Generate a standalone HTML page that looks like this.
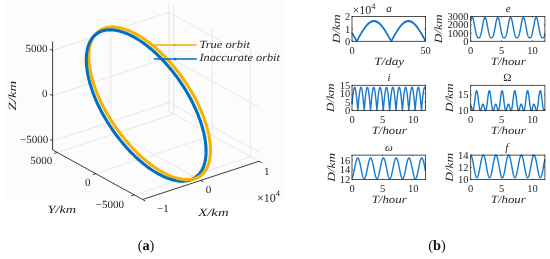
<!DOCTYPE html>
<html><head><meta charset="utf-8"><style>
html,body{margin:0;padding:0;background:#fff;}
body{width:550px;height:259px;overflow:hidden;position:relative;}
svg{position:absolute;left:0;top:0;}
text{text-rendering:geometricPrecision;font-family:'Liberation Serif','DejaVu Serif',serif;fill:#262626;}
.lbl{font-weight:bold;fill:#111;}
</style></head><body>
<svg width="550" height="259" viewBox="0 0 550 259">
<rect x="6" y="0" width="279" height="200" fill="#fcfcfc"/>
<line x1="200.80" y1="180.40" x2="110.80" y2="130.80" stroke="#dcdcdc" stroke-width="0.7"/>
<line x1="110.80" y1="130.80" x2="110.80" y2="22.40" stroke="#dcdcdc" stroke-width="0.7"/>
<line x1="259.00" y1="161.30" x2="169.00" y2="111.70" stroke="#dcdcdc" stroke-width="0.7"/>
<line x1="169.00" y1="111.70" x2="169.00" y2="3.30" stroke="#dcdcdc" stroke-width="0.7"/>
<line x1="134.21" y1="194.87" x2="250.61" y2="156.67" stroke="#dcdcdc" stroke-width="0.7"/>
<line x1="250.61" y1="156.67" x2="250.61" y2="48.27" stroke="#dcdcdc" stroke-width="0.7"/>
<line x1="95.74" y1="173.68" x2="212.14" y2="135.48" stroke="#dcdcdc" stroke-width="0.7"/>
<line x1="212.14" y1="135.48" x2="212.14" y2="27.08" stroke="#dcdcdc" stroke-width="0.7"/>
<line x1="57.28" y1="152.48" x2="173.68" y2="114.28" stroke="#dcdcdc" stroke-width="0.7"/>
<line x1="173.68" y1="114.28" x2="173.68" y2="5.88" stroke="#dcdcdc" stroke-width="0.7"/>
<line x1="52.60" y1="140.87" x2="169.00" y2="102.67" stroke="#dcdcdc" stroke-width="0.7"/>
<line x1="169.00" y1="102.67" x2="259.00" y2="152.27" stroke="#dcdcdc" stroke-width="0.7"/>
<line x1="52.60" y1="95.70" x2="169.00" y2="57.50" stroke="#dcdcdc" stroke-width="0.7"/>
<line x1="169.00" y1="57.50" x2="259.00" y2="107.10" stroke="#dcdcdc" stroke-width="0.7"/>
<line x1="52.60" y1="50.53" x2="169.00" y2="12.33" stroke="#dcdcdc" stroke-width="0.7"/>
<line x1="169.00" y1="12.33" x2="259.00" y2="61.93" stroke="#dcdcdc" stroke-width="0.7"/>
<line x1="52.60" y1="149.90" x2="52.60" y2="41.50" stroke="#262626" stroke-width="0.9"/>
<path d="M52.60,149.90 L142.60,199.50 L259.00,161.30" fill="none" stroke="#262626" stroke-width="0.9" stroke-linejoin="miter"/>
<line x1="52.60" y1="140.87" x2="49.97" y2="139.42" stroke="#262626" stroke-width="0.9"/>
<line x1="52.60" y1="95.70" x2="49.97" y2="94.25" stroke="#262626" stroke-width="0.9"/>
<line x1="52.60" y1="50.53" x2="49.97" y2="49.09" stroke="#262626" stroke-width="0.9"/>
<line x1="134.21" y1="194.87" x2="131.36" y2="195.81" stroke="#262626" stroke-width="0.9"/>
<line x1="95.74" y1="173.68" x2="92.89" y2="174.61" stroke="#262626" stroke-width="0.9"/>
<line x1="57.28" y1="152.48" x2="54.43" y2="153.41" stroke="#262626" stroke-width="0.9"/>
<line x1="142.60" y1="199.50" x2="145.23" y2="200.95" stroke="#262626" stroke-width="0.9"/>
<line x1="200.80" y1="180.40" x2="203.43" y2="181.85" stroke="#262626" stroke-width="0.9"/>
<line x1="259.00" y1="161.30" x2="261.63" y2="162.75" stroke="#262626" stroke-width="0.9"/>
<path d="M200.02,175.98 L199.11,176.58 L198.17,177.12 L197.19,177.62 L196.18,178.06 L195.14,178.45 L194.07,178.79 L192.97,179.08 L191.83,179.32 L190.67,179.50 L189.48,179.63 L188.27,179.71 L187.02,179.74 L185.75,179.72 L184.46,179.64 L183.14,179.51 L181.80,179.33 L180.44,179.10 L179.05,178.81 L177.65,178.48 L176.23,178.09 L174.79,177.65 L173.33,177.16 L171.85,176.62 L170.36,176.03 L168.86,175.39 L167.34,174.70 L165.81,173.96 L164.27,173.17 L162.72,172.33 L161.16,171.45 L159.60,170.52 L158.02,169.55 L156.44,168.53 L154.86,167.46 L153.27,166.35 L151.68,165.20 L150.09,164.01 L148.50,162.77 L146.91,161.49 L145.32,160.18 L143.73,158.82 L142.15,157.43 L140.57,156.00 L139.00,154.53 L137.44,153.03 L135.88,151.50 L134.34,149.93 L132.80,148.33 L131.28,146.70 L129.77,145.04 L128.27,143.35 L126.79,141.63 L125.32,139.89 L123.87,138.12 L122.44,136.33 L121.02,134.51 L119.63,132.68 L118.25,130.82 L116.90,128.95 L115.57,127.05 L114.27,125.15 L112.98,123.22 L111.73,121.29 L110.50,119.34 L109.29,117.38 L108.11,115.41 L106.97,113.43 L105.85,111.45 L104.76,109.46 L103.70,107.46 L102.67,105.47 L101.68,103.47 L100.72,101.47 L99.79,99.47 L98.90,97.48 L98.04,95.49 L97.22,93.50 L96.43,91.52 L95.68,89.55 L94.96,87.59 L94.29,85.64 L93.65,83.71 L93.05,81.78 L92.49,79.87 L91.96,77.98 L91.48,76.10 L91.04,74.25 L90.64,72.41 L90.27,70.59 L89.95,68.80 L89.67,67.03 L89.43,65.29 L89.24,63.57 L89.08,61.88 L88.96,60.22 L88.89,58.58 L88.86,56.98 L88.87,55.41 L88.92,53.87 L89.01,52.37 L89.15,50.90 L89.32,49.47 L89.54,48.07 L89.80,46.71 L90.10,45.39 L90.44,44.11 L90.82,42.88 L91.24,41.68 L91.71,40.52 L92.21,39.41 L92.75,38.34 L93.33,37.32 L93.95,36.34 L94.60,35.41 L95.30,34.52 L96.03,33.69 L96.80,32.90 L97.60,32.15 L98.44,31.46 L99.32,30.82 L100.23,30.22 L101.17,29.68 L102.15,29.18 L103.16,28.74 L104.20,28.35 L105.27,28.01 L106.37,27.72 L107.51,27.48 L108.67,27.30 L109.86,27.17 L111.07,27.09 L112.32,27.06 L113.59,27.08 L114.88,27.16 L116.20,27.29 L117.54,27.47 L118.90,27.70 L120.29,27.99 L121.69,28.32 L123.11,28.71 L124.55,29.15 L126.01,29.64 L127.49,30.18 L128.98,30.77 L130.48,31.41 L132.00,32.10 L133.53,32.84 L135.07,33.63 L136.62,34.47 L138.18,35.35 L139.74,36.28 L141.32,37.25 L142.90,38.27 L144.48,39.34 L146.07,40.45 L147.66,41.60 L149.25,42.79 L150.84,44.03 L152.43,45.31 L154.02,46.62 L155.61,47.98 L157.19,49.37 L158.77,50.80 L160.34,52.27 L161.90,53.77 L163.46,55.30 L165.00,56.87 L166.54,58.47 L168.06,60.10 L169.57,61.76 L171.07,63.45 L172.55,65.17 L174.02,66.91 L175.47,68.68 L176.90,70.47 L178.32,72.29 L179.71,74.12 L181.09,75.98 L182.44,77.85 L183.77,79.75 L185.07,81.65 L186.36,83.58 L187.61,85.51 L188.84,87.46 L190.05,89.42 L191.23,91.39 L192.37,93.37 L193.49,95.35 L194.58,97.34 L195.64,99.34 L196.67,101.33 L197.66,103.33 L198.62,105.33 L199.55,107.33 L200.44,109.32 L201.30,111.31 L202.12,113.30 L202.91,115.28 L203.66,117.25 L204.38,119.21 L205.05,121.16 L205.69,123.09 L206.29,125.02 L206.85,126.93 L207.38,128.82 L207.86,130.70 L208.30,132.55 L208.70,134.39 L209.07,136.21 L209.39,138.00 L209.67,139.77 L209.91,141.51 L210.10,143.23 L210.26,144.92 L210.38,146.58 L210.45,148.22 L210.48,149.82 L210.47,151.39 L210.42,152.93 L210.33,154.43 L210.19,155.90 L210.02,157.33 L209.80,158.73 L209.54,160.09 L209.24,161.41 L208.90,162.69 L208.52,163.92 L208.10,165.12 L207.63,166.28 L207.13,167.39 L206.59,168.46 L206.01,169.48 L205.39,170.46 L204.74,171.39 L204.04,172.28 L203.31,173.11 L202.54,173.90 L201.74,174.65 L200.90,175.34 Z" fill="none" stroke="#F9B100" stroke-width="3.1"/>
<path d="M195.29,177.49 L194.37,178.07 L193.42,178.61 L192.45,179.10 L191.43,179.54 L190.39,179.92 L189.32,180.26 L188.22,180.54 L187.09,180.77 L185.93,180.96 L184.74,181.08 L183.53,181.16 L182.29,181.19 L181.03,181.16 L179.74,181.08 L178.43,180.95 L177.10,180.77 L175.75,180.54 L174.37,180.25 L172.98,179.92 L171.57,179.53 L170.14,179.09 L168.70,178.61 L167.24,178.07 L165.76,177.48 L164.27,176.84 L162.77,176.16 L161.26,175.42 L159.74,174.64 L158.21,173.81 L156.67,172.93 L155.12,172.01 L153.57,171.04 L152.01,170.03 L150.45,168.97 L148.88,167.87 L147.31,166.73 L145.75,165.54 L144.18,164.32 L142.61,163.05 L141.05,161.74 L139.49,160.40 L137.93,159.01 L136.38,157.59 L134.84,156.14 L133.31,154.65 L131.78,153.13 L130.26,151.57 L128.76,149.98 L127.26,148.36 L125.78,146.72 L124.32,145.04 L122.86,143.34 L121.43,141.61 L120.01,139.85 L118.61,138.08 L117.23,136.28 L115.86,134.46 L114.52,132.62 L113.20,130.76 L111.91,128.88 L110.63,126.99 L109.38,125.08 L108.16,123.16 L106.96,121.23 L105.79,119.28 L104.65,117.33 L103.53,115.37 L102.44,113.40 L101.39,111.43 L100.36,109.45 L99.37,107.47 L98.41,105.49 L97.48,103.51 L96.58,101.53 L95.72,99.55 L94.90,97.58 L94.10,95.61 L93.35,93.65 L92.63,91.70 L91.94,89.76 L91.30,87.82 L90.69,85.90 L90.12,84.00 L89.59,82.10 L89.09,80.23 L88.64,78.37 L88.23,76.53 L87.85,74.71 L87.52,72.91 L87.22,71.13 L86.97,69.38 L86.75,67.65 L86.58,65.95 L86.45,64.27 L86.36,62.62 L86.31,61.00 L86.30,59.42 L86.33,57.86 L86.40,56.34 L86.52,54.85 L86.67,53.39 L86.87,51.97 L87.10,50.59 L87.38,49.25 L87.70,47.94 L88.05,46.67 L88.45,45.45 L88.89,44.26 L89.36,43.12 L89.88,42.02 L90.43,40.96 L91.02,39.95 L91.65,38.98 L92.32,38.06 L93.02,37.18 L93.76,36.35 L94.54,35.57 L95.35,34.84 L96.19,34.15 L97.07,33.51 L97.99,32.93 L98.94,32.39 L99.91,31.90 L100.93,31.46 L101.97,31.08 L103.04,30.74 L104.14,30.46 L105.27,30.23 L106.43,30.04 L107.62,29.92 L108.83,29.84 L110.07,29.81 L111.33,29.84 L112.62,29.92 L113.93,30.05 L115.26,30.23 L116.61,30.46 L117.99,30.75 L119.38,31.08 L120.79,31.47 L122.22,31.91 L123.66,32.39 L125.12,32.93 L126.60,33.52 L128.09,34.16 L129.59,34.84 L131.10,35.58 L132.62,36.36 L134.15,37.19 L135.69,38.07 L137.24,38.99 L138.79,39.96 L140.35,40.97 L141.91,42.03 L143.48,43.13 L145.05,44.27 L146.61,45.46 L148.18,46.68 L149.75,47.95 L151.31,49.26 L152.87,50.60 L154.43,51.99 L155.98,53.41 L157.52,54.86 L159.05,56.35 L160.58,57.87 L162.10,59.43 L163.60,61.02 L165.10,62.64 L166.58,64.28 L168.04,65.96 L169.50,67.66 L170.93,69.39 L172.35,71.15 L173.75,72.92 L175.13,74.72 L176.50,76.54 L177.84,78.38 L179.16,80.24 L180.45,82.12 L181.73,84.01 L182.98,85.92 L184.20,87.84 L185.40,89.77 L186.57,91.72 L187.71,93.67 L188.83,95.63 L189.92,97.60 L190.97,99.57 L192.00,101.55 L192.99,103.53 L193.95,105.51 L194.88,107.49 L195.78,109.47 L196.64,111.45 L197.46,113.42 L198.26,115.39 L199.01,117.35 L199.73,119.30 L200.42,121.24 L201.06,123.18 L201.67,125.10 L202.24,127.00 L202.77,128.90 L203.27,130.77 L203.72,132.63 L204.13,134.47 L204.51,136.29 L204.84,138.09 L205.14,139.87 L205.39,141.62 L205.61,143.35 L205.78,145.05 L205.91,146.73 L206.00,148.38 L206.05,150.00 L206.06,151.58 L206.03,153.14 L205.96,154.66 L205.84,156.15 L205.69,157.61 L205.49,159.03 L205.26,160.41 L204.98,161.75 L204.66,163.06 L204.31,164.33 L203.91,165.55 L203.47,166.74 L203.00,167.88 L202.48,168.98 L201.93,170.04 L201.34,171.05 L200.71,172.02 L200.04,172.94 L199.34,173.82 L198.60,174.65 L197.82,175.43 L197.01,176.16 L196.17,176.85 Z" fill="none" stroke="#0071C1" stroke-width="3.1"/>
<path d="M176.23,178.09 L176.70,178.22 L177.18,178.35 L177.65,178.48 L178.12,178.59 L178.59,178.71 L179.05,178.81 L179.52,178.91 L179.98,179.01 L180.44,179.10 L180.90,179.18 L181.35,179.26 L181.80,179.33 L182.25,179.40 L182.70,179.46 L183.14,179.51 L183.58,179.56 L184.02,179.60 L184.46,179.64 L184.89,179.67 L185.32,179.70 L185.75,179.72 L186.18,179.73 L186.60,179.74 L187.02,179.74 L187.44,179.74 L187.85,179.73 L188.27,179.71 L188.67,179.69 L189.08,179.67 L189.48,179.63 L189.88,179.60 L190.28,179.55 L190.67,179.50 L191.06,179.45 L191.45,179.38 L191.83,179.32 L192.21,179.24 L192.59,179.16 L192.97,179.08 L193.34,178.99 L193.71,178.89 L194.07,178.79 L194.43,178.68 L194.79,178.57 L195.14,178.45 L195.49,178.33 L195.84,178.20 L196.18,178.06 L196.52,177.92 L196.86,177.77 L197.19,177.62 L197.52,177.46 L197.85,177.29 L198.17,177.12 L198.49,176.95 L198.80,176.77 L199.11,176.58 L199.42,176.39 L199.72,176.19 L200.02,175.98 L200.32,175.78 L200.61,175.56 L200.90,175.34 L201.18,175.11 L201.46,174.88 L201.74,174.65 L202.01,174.40 L202.28,174.16 L202.54,173.90 L202.80,173.65 L203.06,173.38 L203.31,173.11 L203.56,172.84 L203.80,172.56 L204.04,172.28 L204.28,171.99 L204.51,171.69 L204.74,171.39 L204.96,171.08 L205.18,170.77 L205.39,170.46 L205.60,170.14 L205.81,169.81 L206.01,169.48 L206.21,169.14 L206.40,168.80 L206.59,168.46 L206.78,168.11" fill="none" stroke="#F9B100" stroke-width="3.1"/>
<line x1="153.70" y1="45.00" x2="196.70" y2="45.00" stroke="#F9B100" stroke-width="1.6"/>
<circle cx="175.2" cy="45.0" r="1.3" fill="#F9B100"/>
<line x1="153.90" y1="59.00" x2="196.90" y2="59.00" stroke="#0071C1" stroke-width="1.6"/>
<circle cx="175.2" cy="59.0" r="1.3" fill="#0071C1"/>
<path d="M352.00,33.07 L352.09,33.22 L352.18,33.37 L352.28,33.52 L352.37,33.67 L352.46,33.83 L352.55,33.98 L352.64,34.14 L352.73,34.29 L352.83,34.45 L352.92,34.60 L353.01,34.76 L353.10,34.92 L353.19,35.07 L353.29,35.23 L353.38,35.39 L353.47,35.55 L353.56,35.71 L353.65,35.87 L353.75,36.03 L353.84,36.19 L353.93,36.35 L354.02,36.51 L354.11,36.67 L354.20,36.83 L354.30,36.99 L354.39,37.15 L354.48,37.32 L354.57,37.48 L354.66,37.64 L354.76,37.81 L354.85,37.97 L354.94,38.13 L355.03,38.30 L355.12,38.46 L355.22,38.63 L355.31,38.79 L355.40,38.96 L355.49,39.12 L355.58,39.28 L355.67,39.45 L355.77,39.62 L355.86,39.78 L355.95,39.95 L356.04,40.11 L356.13,40.28 L356.23,40.44 L356.32,40.61 L356.41,40.78 L356.50,40.94 L356.59,41.11 L356.69,41.27 L356.78,41.16 L356.87,40.99 L356.96,40.83 L357.05,40.66 L357.14,40.50 L357.24,40.33 L357.33,40.17 L357.42,40.00 L357.51,39.83 L357.60,39.67 L357.70,39.50 L357.79,39.34 L357.88,39.17 L357.97,39.01 L358.06,38.84 L358.15,38.68 L358.25,38.51 L358.34,38.35 L358.43,38.19 L358.52,38.02 L358.61,37.86 L358.71,37.70 L358.80,37.53 L358.89,37.37 L358.98,37.21 L359.07,37.05 L359.17,36.88 L359.26,36.72 L359.35,36.56 L359.44,36.40 L359.53,36.24 L359.62,36.08 L359.72,35.92 L359.81,35.76 L359.90,35.60 L359.99,35.44 L360.08,35.28 L360.18,35.12 L360.27,34.97 L360.36,34.81 L360.45,34.65 L360.54,34.50 L360.64,34.34 L360.73,34.19 L360.82,34.03 L360.91,33.88 L361.00,33.72 L361.09,33.57 L361.19,33.42 L361.28,33.27 L361.37,33.11 L361.46,32.96 L361.55,32.81 L361.65,32.66 L361.74,32.51 L361.83,32.37 L361.92,32.22 L362.01,32.07 L362.11,31.92 L362.20,31.78 L362.29,31.63 L362.38,31.49 L362.47,31.34 L362.56,31.20 L362.66,31.06 L362.75,30.92 L362.84,30.78 L362.93,30.64 L363.02,30.50 L363.12,30.36 L363.21,30.22 L363.30,30.08 L363.39,29.95 L363.48,29.81 L363.57,29.67 L363.67,29.54 L363.76,29.41 L363.85,29.28 L363.94,29.14 L364.03,29.01 L364.13,28.88 L364.22,28.75 L364.31,28.63 L364.40,28.50 L364.49,28.37 L364.59,28.25 L364.68,28.12 L364.77,28.00 L364.86,27.88 L364.95,27.75 L365.04,27.63 L365.14,27.51 L365.23,27.39 L365.32,27.28 L365.41,27.16 L365.50,27.04 L365.60,26.93 L365.69,26.82 L365.78,26.70 L365.87,26.59 L365.96,26.48 L366.06,26.37 L366.15,26.26 L366.24,26.15 L366.33,26.05 L366.42,25.94 L366.51,25.84 L366.61,25.73 L366.70,25.63 L366.79,25.53 L366.88,25.43 L366.97,25.33 L367.07,25.23 L367.16,25.14 L367.25,25.04 L367.34,24.95 L367.43,24.85 L367.53,24.76 L367.62,24.67 L367.71,24.58 L367.80,24.49 L367.89,24.40 L367.98,24.32 L368.08,24.23 L368.17,24.15 L368.26,24.06 L368.35,23.98 L368.44,23.90 L368.54,23.82 L368.63,23.74 L368.72,23.67 L368.81,23.59 L368.90,23.52 L368.99,23.45 L369.09,23.37 L369.18,23.30 L369.27,23.23 L369.36,23.17 L369.45,23.10 L369.55,23.03 L369.64,22.97 L369.73,22.91 L369.82,22.85 L369.91,22.79 L370.01,22.73 L370.10,22.67 L370.19,22.61 L370.28,22.56 L370.37,22.50 L370.46,22.45 L370.56,22.40 L370.65,22.35 L370.74,22.30 L370.83,22.25 L370.92,22.21 L371.02,22.16 L371.11,22.12 L371.20,22.08 L371.29,22.04 L371.38,22.00 L371.48,21.96 L371.57,21.93 L371.66,21.89 L371.75,21.86 L371.84,21.82 L371.93,21.79 L372.03,21.76 L372.12,21.74 L372.21,21.71 L372.30,21.68 L372.39,21.66 L372.49,21.64 L372.58,21.61 L372.67,21.59 L372.76,21.58 L372.85,21.56 L372.95,21.54 L373.04,21.53 L373.13,21.52 L373.22,21.50 L373.31,21.49 L373.40,21.48 L373.50,21.48 L373.59,21.47 L373.68,21.47 L373.77,21.46 L373.86,21.46 L373.96,21.46 L374.05,21.46 L374.14,21.46 L374.23,21.47 L374.32,21.47 L374.42,21.48 L374.51,21.49 L374.60,21.49 L374.69,21.51 L374.78,21.52 L374.87,21.53 L374.97,21.54 L375.06,21.56 L375.15,21.58 L375.24,21.60 L375.33,21.62 L375.43,21.64 L375.52,21.66 L375.61,21.69 L375.70,21.71 L375.79,21.74 L375.88,21.77 L375.98,21.80 L376.07,21.83 L376.16,21.86 L376.25,21.89 L376.34,21.93 L376.44,21.97 L376.53,22.00 L376.62,22.04 L376.71,22.08 L376.80,22.13 L376.90,22.17 L376.99,22.21 L377.08,22.26 L377.17,22.31 L377.26,22.36 L377.35,22.41 L377.45,22.46 L377.54,22.51 L377.63,22.56 L377.72,22.62 L377.81,22.68 L377.91,22.73 L378.00,22.79 L378.09,22.85 L378.18,22.91 L378.27,22.98 L378.37,23.04 L378.46,23.11 L378.55,23.17 L378.64,23.24 L378.73,23.31 L378.82,23.38 L378.92,23.45 L379.01,23.53 L379.10,23.60 L379.19,23.68 L379.28,23.75 L379.38,23.83 L379.47,23.91 L379.56,23.99 L379.65,24.07 L379.74,24.16 L379.84,24.24 L379.93,24.33 L380.02,24.41 L380.11,24.50 L380.20,24.59 L380.29,24.68 L380.39,24.77 L380.48,24.86 L380.57,24.96 L380.66,25.05 L380.75,25.15 L380.85,25.24 L380.94,25.34 L381.03,25.44 L381.12,25.54 L381.21,25.64 L381.30,25.75 L381.40,25.85 L381.49,25.95 L381.58,26.06 L381.67,26.17 L381.76,26.27 L381.86,26.38 L381.95,26.49 L382.04,26.60 L382.13,26.72 L382.22,26.83 L382.32,26.94 L382.41,27.06 L382.50,27.17 L382.59,27.29 L382.68,27.41 L382.77,27.53 L382.87,27.65 L382.96,27.77 L383.05,27.89 L383.14,28.01 L383.23,28.14 L383.33,28.26 L383.42,28.39 L383.51,28.51 L383.60,28.64 L383.69,28.77 L383.79,28.90 L383.88,29.03 L383.97,29.16 L384.06,29.29 L384.15,29.42 L384.24,29.56 L384.34,29.69 L384.43,29.83 L384.52,29.96 L384.61,30.10 L384.70,30.24 L384.80,30.37 L384.89,30.51 L384.98,30.65 L385.07,30.79 L385.16,30.93 L385.26,31.08 L385.35,31.22 L385.44,31.36 L385.53,31.51 L385.62,31.65 L385.71,31.80 L385.81,31.94 L385.90,32.09 L385.99,32.24 L386.08,32.38 L386.17,32.53 L386.27,32.68 L386.36,32.83 L386.45,32.98 L386.54,33.13 L386.63,33.28 L386.72,33.44 L386.82,33.59 L386.91,33.74 L387.00,33.90 L387.09,34.05 L387.18,34.21 L387.28,34.36 L387.37,34.52 L387.46,34.67 L387.55,34.83 L387.64,34.99 L387.74,35.14 L387.83,35.30 L387.92,35.46 L388.01,35.62 L388.10,35.78 L388.19,35.94 L388.29,36.10 L388.38,36.26 L388.47,36.42 L388.56,36.58 L388.65,36.74 L388.75,36.90 L388.84,37.07 L388.93,37.23 L389.02,37.39 L389.11,37.55 L389.21,37.72 L389.30,37.88 L389.39,38.04 L389.48,38.21 L389.57,38.37 L389.66,38.54 L389.76,38.70 L389.85,38.86 L389.94,39.03 L390.03,39.19 L390.12,39.36 L390.22,39.52 L390.31,39.69 L390.40,39.86 L390.49,40.02 L390.58,40.19 L390.68,40.35 L390.77,40.52 L390.86,40.68 L390.95,40.85 L391.04,41.02 L391.13,41.18 L391.23,41.25 L391.32,41.09 L391.41,40.92 L391.50,40.75 L391.59,40.59 L391.69,40.42 L391.78,40.26 L391.87,40.09 L391.96,39.93 L392.05,39.76 L392.14,39.59 L392.24,39.43 L392.33,39.26 L392.42,39.10 L392.51,38.93 L392.60,38.77 L392.70,38.61 L392.79,38.44 L392.88,38.28 L392.97,38.11 L393.06,37.95 L393.16,37.79 L393.25,37.62 L393.34,37.46 L393.43,37.30 L393.52,37.13 L393.61,36.97 L393.71,36.81 L393.80,36.65 L393.89,36.49 L393.98,36.33 L394.07,36.17 L394.17,36.01 L394.26,35.85 L394.35,35.69 L394.44,35.53 L394.53,35.37 L394.63,35.21 L394.72,35.05 L394.81,34.90 L394.90,34.74 L394.99,34.58 L395.08,34.43 L395.18,34.27 L395.27,34.12 L395.36,33.96 L395.45,33.81 L395.54,33.66 L395.64,33.50 L395.73,33.35 L395.82,33.20 L395.91,33.05 L396.00,32.90 L396.10,32.75 L396.19,32.60 L396.28,32.45 L396.37,32.30 L396.46,32.15 L396.55,32.01 L396.65,31.86 L396.74,31.71 L396.83,31.57 L396.92,31.42 L397.01,31.28 L397.11,31.14 L397.20,31.00 L397.29,30.85 L397.38,30.71 L397.47,30.57 L397.56,30.43 L397.66,30.30 L397.75,30.16 L397.84,30.02 L397.93,29.88 L398.02,29.75 L398.12,29.61 L398.21,29.48 L398.30,29.35 L398.39,29.22 L398.48,29.08 L398.58,28.95 L398.67,28.83 L398.76,28.70 L398.85,28.57 L398.94,28.44 L399.03,28.32 L399.13,28.19 L399.22,28.07 L399.31,27.94 L399.40,27.82 L399.49,27.70 L399.59,27.58 L399.68,27.46 L399.77,27.34 L399.86,27.22 L399.95,27.11 L400.05,26.99 L400.14,26.88 L400.23,26.76 L400.32,26.65 L400.41,26.54 L400.50,26.43 L400.60,26.32 L400.69,26.21 L400.78,26.11 L400.87,26.00 L400.96,25.89 L401.06,25.79 L401.15,25.69 L401.24,25.59 L401.33,25.48 L401.42,25.38 L401.52,25.29 L401.61,25.19 L401.70,25.09 L401.79,25.00 L401.88,24.90 L401.97,24.81 L402.07,24.72 L402.16,24.63 L402.25,24.54 L402.34,24.45 L402.43,24.36 L402.53,24.28 L402.62,24.19 L402.71,24.11 L402.80,24.03 L402.89,23.95 L402.98,23.87 L403.08,23.79 L403.17,23.71 L403.26,23.63 L403.35,23.56 L403.44,23.49 L403.54,23.41 L403.63,23.34 L403.72,23.27 L403.81,23.20 L403.90,23.14 L404.00,23.07 L404.09,23.01 L404.18,22.94 L404.27,22.88 L404.36,22.82 L404.45,22.76 L404.55,22.70 L404.64,22.64 L404.73,22.59 L404.82,22.53 L404.91,22.48 L405.01,22.43 L405.10,22.38 L405.19,22.33 L405.28,22.28 L405.37,22.23 L405.47,22.19 L405.56,22.14 L405.65,22.10 L405.74,22.06 L405.83,22.02 L405.92,21.98 L406.02,21.95 L406.11,21.91 L406.20,21.87 L406.29,21.84 L406.38,21.81 L406.48,21.78 L406.57,21.75 L406.66,21.72 L406.75,21.70 L406.84,21.67 L406.94,21.65 L407.03,21.63 L407.12,21.61 L407.21,21.59 L407.30,21.57 L407.39,21.55 L407.49,21.54 L407.58,21.52 L407.67,21.51 L407.76,21.50 L407.85,21.49 L407.95,21.48 L408.04,21.47 L408.13,21.47 L408.22,21.46 L408.31,21.46 L408.41,21.46 L408.50,21.46 L408.59,21.46 L408.68,21.46 L408.77,21.47 L408.86,21.47 L408.96,21.48 L409.05,21.49 L409.14,21.50 L409.23,21.51 L409.32,21.52 L409.42,21.54 L409.51,21.55 L409.60,21.57 L409.69,21.59 L409.78,21.61 L409.87,21.63 L409.97,21.65 L410.06,21.67 L410.15,21.70 L410.24,21.72 L410.33,21.75 L410.43,21.78 L410.52,21.81 L410.61,21.84 L410.70,21.88 L410.79,21.91 L410.89,21.95 L410.98,21.98 L411.07,22.02 L411.16,22.06 L411.25,22.10 L411.34,22.15 L411.44,22.19 L411.53,22.23 L411.62,22.28 L411.71,22.33 L411.80,22.38 L411.90,22.43 L411.99,22.48 L412.08,22.53 L412.17,22.59 L412.26,22.64 L412.36,22.70 L412.45,22.76 L412.54,22.82 L412.63,22.88 L412.72,22.94 L412.81,23.01 L412.91,23.07 L413.00,23.14 L413.09,23.20 L413.18,23.27 L413.27,23.34 L413.37,23.41 L413.46,23.49 L413.55,23.56 L413.64,23.64 L413.73,23.71 L413.83,23.79 L413.92,23.87 L414.01,23.95 L414.10,24.03 L414.19,24.11 L414.28,24.19 L414.38,24.28 L414.47,24.37 L414.56,24.45 L414.65,24.54 L414.74,24.63 L414.84,24.72 L414.93,24.81 L415.02,24.91 L415.11,25.00 L415.20,25.09 L415.29,25.19 L415.39,25.29 L415.48,25.39 L415.57,25.49 L415.66,25.59 L415.75,25.69 L415.85,25.79 L415.94,25.90 L416.03,26.00 L416.12,26.11 L416.21,26.21 L416.31,26.32 L416.40,26.43 L416.49,26.54 L416.58,26.65 L416.67,26.77 L416.76,26.88 L416.86,26.99 L416.95,27.11 L417.04,27.23 L417.13,27.34 L417.22,27.46 L417.32,27.58 L417.41,27.70 L417.50,27.82 L417.59,27.95 L417.68,28.07 L417.78,28.19 L417.87,28.32 L417.96,28.44 L418.05,28.57 L418.14,28.70 L418.23,28.83 L418.33,28.96 L418.42,29.09 L418.51,29.22 L418.60,29.35 L418.69,29.48 L418.79,29.62 L418.88,29.75 L418.97,29.89 L419.06,30.02 L419.15,30.16 L419.25,30.30 L419.34,30.44 L419.43,30.58 L419.52,30.72 L419.61,30.86 L419.70,31.00 L419.80,31.14 L419.89,31.28 L419.98,31.43 L420.07,31.57 L420.16,31.72 L420.26,31.86 L420.35,32.01 L420.44,32.16 L420.53,32.30 L420.62,32.45 L420.71,32.60 L420.81,32.75 L420.90,32.90 L420.99,33.05 L421.08,33.20 L421.17,33.35 L421.27,33.51 L421.36,33.66 L421.45,33.81 L421.54,33.97 L421.63,34.12 L421.73,34.28 L421.82,34.43 L421.91,34.59 L422.00,34.74 L422.09,34.90 L422.18,35.06 L422.28,35.21 L422.37,35.37 L422.46,35.53 L422.55,35.69 L422.64,35.85 L422.74,36.01 L422.83,36.17 L422.92,36.33 L423.01,36.49 L423.10,36.65 L423.20,36.81 L423.29,36.98 L423.38,37.14 L423.47,37.30 L423.56,37.46 L423.65,37.63 L423.75,37.79 L423.84,37.95 L423.93,38.12 L424.02,38.28 L424.11,38.44 L424.21,38.61 L424.30,38.77 L424.39,38.94 L424.48,39.10 L424.57,39.27 L424.67,39.43 L424.76,39.60 L424.85,39.76 L424.94,39.93 L425.03,40.09 L425.12,40.26 L425.22,40.43 L425.31,40.59 L425.40,40.76" fill="none" stroke="#1579CF" stroke-width="1.5" stroke-linejoin="round"/>
<path d="M352.00,32.74 L352.09,32.89 L352.18,33.05 L352.28,33.21 L352.37,33.37 L352.46,33.53 L352.55,33.69 L352.64,33.85 L352.73,34.01 L352.83,34.17 L352.92,34.33 L353.01,34.50 L353.10,34.66 L353.19,34.82 L353.29,34.99 L353.38,35.15 L353.47,35.32 L353.56,35.48 L353.65,35.65 L353.75,35.82 L353.84,35.98 L353.93,36.15 L354.02,36.32 L354.11,36.48 L354.20,36.65 L354.30,36.82 L354.39,36.99 L354.48,37.16 L354.57,37.33 L354.66,37.50 L354.76,37.67 L354.85,37.84 L354.94,38.01 L355.03,38.18 L355.12,38.35 L355.22,38.52 L355.31,38.69 L355.40,38.86 L355.49,39.03 L355.58,39.20 L355.67,39.38 L355.77,39.55 L355.86,39.72 L355.95,39.89 L356.04,40.06 L356.13,40.24 L356.23,40.41 L356.32,40.58 L356.41,40.75 L356.50,40.93 L356.59,41.10 L356.69,41.27 L356.78,41.16 L356.87,40.98 L356.96,40.81 L357.05,40.64 L357.14,40.47 L357.24,40.29 L357.33,40.12 L357.42,39.95 L357.51,39.78 L357.60,39.60 L357.70,39.43 L357.79,39.26 L357.88,39.09 L357.97,38.92 L358.06,38.75 L358.15,38.57 L358.25,38.40 L358.34,38.23 L358.43,38.06 L358.52,37.89 L358.61,37.72 L358.71,37.55 L358.80,37.38 L358.89,37.21 L358.98,37.04 L359.07,36.87 L359.17,36.71 L359.26,36.54 L359.35,36.37 L359.44,36.20 L359.53,36.04 L359.62,35.87 L359.72,35.70 L359.81,35.54 L359.90,35.37 L359.99,35.21 L360.08,35.04 L360.18,34.88 L360.27,34.71 L360.36,34.55 L360.45,34.39 L360.54,34.23 L360.64,34.06 L360.73,33.90 L360.82,33.74 L360.91,33.58 L361.00,33.42 L361.09,33.26 L361.19,33.10 L361.28,32.94 L361.37,32.79 L361.46,32.63 L361.55,32.47 L361.65,32.32 L361.74,32.16 L361.83,32.01 L361.92,31.85 L362.01,31.70 L362.11,31.55 L362.20,31.40 L362.29,31.25 L362.38,31.10 L362.47,30.95 L362.56,30.80 L362.66,30.65 L362.75,30.50 L362.84,30.36 L362.93,30.21 L363.02,30.06 L363.12,29.92 L363.21,29.78 L363.30,29.63 L363.39,29.49 L363.48,29.35 L363.57,29.21 L363.67,29.07 L363.76,28.93 L363.85,28.79 L363.94,28.66 L364.03,28.52 L364.13,28.39 L364.22,28.25 L364.31,28.12 L364.40,27.99 L364.49,27.86 L364.59,27.72 L364.68,27.60 L364.77,27.47 L364.86,27.34 L364.95,27.21 L365.04,27.09 L365.14,26.96 L365.23,26.84 L365.32,26.72 L365.41,26.59 L365.50,26.47 L365.60,26.35 L365.69,26.24 L365.78,26.12 L365.87,26.00 L365.96,25.89 L366.06,25.77 L366.15,25.66 L366.24,25.55 L366.33,25.44 L366.42,25.33 L366.51,25.22 L366.61,25.11 L366.70,25.00 L366.79,24.90 L366.88,24.79 L366.97,24.69 L367.07,24.59 L367.16,24.49 L367.25,24.39 L367.34,24.29 L367.43,24.19 L367.53,24.10 L367.62,24.00 L367.71,23.91 L367.80,23.82 L367.89,23.73 L367.98,23.64 L368.08,23.55 L368.17,23.46 L368.26,23.37 L368.35,23.29 L368.44,23.21 L368.54,23.12 L368.63,23.04 L368.72,22.96 L368.81,22.88 L368.90,22.81 L368.99,22.73 L369.09,22.66 L369.18,22.58 L369.27,22.51 L369.36,22.44 L369.45,22.37 L369.55,22.30 L369.64,22.24 L369.73,22.17 L369.82,22.11 L369.91,22.04 L370.01,21.98 L370.10,21.92 L370.19,21.86 L370.28,21.81 L370.37,21.75 L370.46,21.70 L370.56,21.64 L370.65,21.59 L370.74,21.54 L370.83,21.49 L370.92,21.44 L371.02,21.40 L371.11,21.35 L371.20,21.31 L371.29,21.27 L371.38,21.23 L371.48,21.19 L371.57,21.15 L371.66,21.11 L371.75,21.08 L371.84,21.05 L371.93,21.01 L372.03,20.98 L372.12,20.95 L372.21,20.92 L372.30,20.90 L372.39,20.87 L372.49,20.85 L372.58,20.83 L372.67,20.81 L372.76,20.79 L372.85,20.77 L372.95,20.75 L373.04,20.74 L373.13,20.72 L373.22,20.71 L373.31,20.70 L373.40,20.69 L373.50,20.68 L373.59,20.68 L373.68,20.67 L373.77,20.67 L373.86,20.67 L373.96,20.67 L374.05,20.67 L374.14,20.67 L374.23,20.67 L374.32,20.68 L374.42,20.68 L374.51,20.69 L374.60,20.70 L374.69,20.71 L374.78,20.73 L374.87,20.74 L374.97,20.75 L375.06,20.77 L375.15,20.79 L375.24,20.81 L375.33,20.83 L375.43,20.85 L375.52,20.88 L375.61,20.90 L375.70,20.93 L375.79,20.96 L375.88,20.99 L375.98,21.02 L376.07,21.05 L376.16,21.08 L376.25,21.12 L376.34,21.15 L376.44,21.19 L376.53,21.23 L376.62,21.27 L376.71,21.32 L376.80,21.36 L376.90,21.40 L376.99,21.45 L377.08,21.50 L377.17,21.55 L377.26,21.60 L377.35,21.65 L377.45,21.70 L377.54,21.76 L377.63,21.81 L377.72,21.87 L377.81,21.93 L377.91,21.99 L378.00,22.05 L378.09,22.12 L378.18,22.18 L378.27,22.24 L378.37,22.31 L378.46,22.38 L378.55,22.45 L378.64,22.52 L378.73,22.59 L378.82,22.67 L378.92,22.74 L379.01,22.82 L379.10,22.89 L379.19,22.97 L379.28,23.05 L379.38,23.13 L379.47,23.22 L379.56,23.30 L379.65,23.39 L379.74,23.47 L379.84,23.56 L379.93,23.65 L380.02,23.74 L380.11,23.83 L380.20,23.92 L380.29,24.02 L380.39,24.11 L380.48,24.21 L380.57,24.30 L380.66,24.40 L380.75,24.50 L380.85,24.60 L380.94,24.70 L381.03,24.81 L381.12,24.91 L381.21,25.02 L381.30,25.12 L381.40,25.23 L381.49,25.34 L381.58,25.45 L381.67,25.56 L381.76,25.67 L381.86,25.79 L381.95,25.90 L382.04,26.02 L382.13,26.13 L382.22,26.25 L382.32,26.37 L382.41,26.49 L382.50,26.61 L382.59,26.73 L382.68,26.85 L382.77,26.98 L382.87,27.10 L382.96,27.23 L383.05,27.35 L383.14,27.48 L383.23,27.61 L383.33,27.74 L383.42,27.87 L383.51,28.00 L383.60,28.14 L383.69,28.27 L383.79,28.40 L383.88,28.54 L383.97,28.67 L384.06,28.81 L384.15,28.95 L384.24,29.09 L384.34,29.23 L384.43,29.37 L384.52,29.51 L384.61,29.65 L384.70,29.79 L384.80,29.94 L384.89,30.08 L384.98,30.23 L385.07,30.37 L385.16,30.52 L385.26,30.67 L385.35,30.82 L385.44,30.96 L385.53,31.11 L385.62,31.27 L385.71,31.42 L385.81,31.57 L385.90,31.72 L385.99,31.87 L386.08,32.03 L386.17,32.18 L386.27,32.34 L386.36,32.49 L386.45,32.65 L386.54,32.81 L386.63,32.96 L386.72,33.12 L386.82,33.28 L386.91,33.44 L387.00,33.60 L387.09,33.76 L387.18,33.92 L387.28,34.08 L387.37,34.25 L387.46,34.41 L387.55,34.57 L387.64,34.73 L387.74,34.90 L387.83,35.06 L387.92,35.23 L388.01,35.39 L388.10,35.56 L388.19,35.72 L388.29,35.89 L388.38,36.06 L388.47,36.22 L388.56,36.39 L388.65,36.56 L388.75,36.73 L388.84,36.90 L388.93,37.06 L389.02,37.23 L389.11,37.40 L389.21,37.57 L389.30,37.74 L389.39,37.91 L389.48,38.08 L389.57,38.25 L389.66,38.42 L389.76,38.60 L389.85,38.77 L389.94,38.94 L390.03,39.11 L390.12,39.28 L390.22,39.45 L390.31,39.63 L390.40,39.80 L390.49,39.97 L390.58,40.14 L390.68,40.31 L390.77,40.49 L390.86,40.66 L390.95,40.83 L391.04,41.00 L391.13,41.18 L391.23,41.25 L391.32,41.08 L391.41,40.91 L391.50,40.73 L391.59,40.56 L391.69,40.39 L391.78,40.22 L391.87,40.04 L391.96,39.87 L392.05,39.70 L392.14,39.53 L392.24,39.35 L392.33,39.18 L392.42,39.01 L392.51,38.84 L392.60,38.67 L392.70,38.50 L392.79,38.33 L392.88,38.16 L392.97,37.99 L393.06,37.82 L393.16,37.65 L393.25,37.48 L393.34,37.31 L393.43,37.14 L393.52,36.97 L393.61,36.80 L393.71,36.63 L393.80,36.46 L393.89,36.30 L393.98,36.13 L394.07,35.96 L394.17,35.79 L394.26,35.63 L394.35,35.46 L394.44,35.30 L394.53,35.13 L394.63,34.97 L394.72,34.80 L394.81,34.64 L394.90,34.48 L394.99,34.31 L395.08,34.15 L395.18,33.99 L395.27,33.83 L395.36,33.67 L395.45,33.51 L395.54,33.35 L395.64,33.19 L395.73,33.03 L395.82,32.87 L395.91,32.72 L396.00,32.56 L396.10,32.40 L396.19,32.25 L396.28,32.09 L396.37,31.94 L396.46,31.79 L396.55,31.63 L396.65,31.48 L396.74,31.33 L396.83,31.18 L396.92,31.03 L397.01,30.88 L397.11,30.73 L397.20,30.58 L397.29,30.44 L397.38,30.29 L397.47,30.14 L397.56,30.00 L397.66,29.86 L397.75,29.71 L397.84,29.57 L397.93,29.43 L398.02,29.29 L398.12,29.15 L398.21,29.01 L398.30,28.87 L398.39,28.73 L398.48,28.60 L398.58,28.46 L398.67,28.33 L398.76,28.19 L398.85,28.06 L398.94,27.93 L399.03,27.80 L399.13,27.67 L399.22,27.54 L399.31,27.41 L399.40,27.28 L399.49,27.16 L399.59,27.03 L399.68,26.91 L399.77,26.78 L399.86,26.66 L399.95,26.54 L400.05,26.42 L400.14,26.30 L400.23,26.18 L400.32,26.07 L400.41,25.95 L400.50,25.84 L400.60,25.72 L400.69,25.61 L400.78,25.50 L400.87,25.39 L400.96,25.28 L401.06,25.17 L401.15,25.06 L401.24,24.96 L401.33,24.85 L401.42,24.75 L401.52,24.65 L401.61,24.54 L401.70,24.44 L401.79,24.35 L401.88,24.25 L401.97,24.15 L402.07,24.06 L402.16,23.96 L402.25,23.87 L402.34,23.78 L402.43,23.69 L402.53,23.60 L402.62,23.51 L402.71,23.42 L402.80,23.34 L402.89,23.25 L402.98,23.17 L403.08,23.09 L403.17,23.01 L403.26,22.93 L403.35,22.85 L403.44,22.77 L403.54,22.70 L403.63,22.62 L403.72,22.55 L403.81,22.48 L403.90,22.41 L404.00,22.34 L404.09,22.27 L404.18,22.21 L404.27,22.14 L404.36,22.08 L404.45,22.02 L404.55,21.96 L404.64,21.90 L404.73,21.84 L404.82,21.78 L404.91,21.73 L405.01,21.67 L405.10,21.62 L405.19,21.57 L405.28,21.52 L405.37,21.47 L405.47,21.42 L405.56,21.38 L405.65,21.33 L405.74,21.29 L405.83,21.25 L405.92,21.21 L406.02,21.17 L406.11,21.13 L406.20,21.10 L406.29,21.06 L406.38,21.03 L406.48,21.00 L406.57,20.97 L406.66,20.94 L406.75,20.91 L406.84,20.89 L406.94,20.86 L407.03,20.84 L407.12,20.82 L407.21,20.80 L407.30,20.78 L407.39,20.76 L407.49,20.75 L407.58,20.73 L407.67,20.72 L407.76,20.71 L407.85,20.70 L407.95,20.69 L408.04,20.68 L408.13,20.68 L408.22,20.67 L408.31,20.67 L408.41,20.67 L408.50,20.67 L408.59,20.67 L408.68,20.67 L408.77,20.68 L408.86,20.68 L408.96,20.69 L409.05,20.70 L409.14,20.71 L409.23,20.72 L409.32,20.73 L409.42,20.75 L409.51,20.76 L409.60,20.78 L409.69,20.80 L409.78,20.82 L409.87,20.84 L409.97,20.86 L410.06,20.89 L410.15,20.91 L410.24,20.94 L410.33,20.97 L410.43,21.00 L410.52,21.03 L410.61,21.06 L410.70,21.10 L410.79,21.13 L410.89,21.17 L410.98,21.21 L411.07,21.25 L411.16,21.29 L411.25,21.33 L411.34,21.38 L411.44,21.42 L411.53,21.47 L411.62,21.52 L411.71,21.57 L411.80,21.62 L411.90,21.67 L411.99,21.73 L412.08,21.78 L412.17,21.84 L412.26,21.90 L412.36,21.96 L412.45,22.02 L412.54,22.08 L412.63,22.14 L412.72,22.21 L412.81,22.27 L412.91,22.34 L413.00,22.41 L413.09,22.48 L413.18,22.55 L413.27,22.63 L413.37,22.70 L413.46,22.77 L413.55,22.85 L413.64,22.93 L413.73,23.01 L413.83,23.09 L413.92,23.17 L414.01,23.25 L414.10,23.34 L414.19,23.42 L414.28,23.51 L414.38,23.60 L414.47,23.69 L414.56,23.78 L414.65,23.87 L414.74,23.96 L414.84,24.06 L414.93,24.15 L415.02,24.25 L415.11,24.35 L415.20,24.45 L415.29,24.55 L415.39,24.65 L415.48,24.75 L415.57,24.85 L415.66,24.96 L415.75,25.06 L415.85,25.17 L415.94,25.28 L416.03,25.39 L416.12,25.50 L416.21,25.61 L416.31,25.72 L416.40,25.84 L416.49,25.95 L416.58,26.07 L416.67,26.19 L416.76,26.30 L416.86,26.42 L416.95,26.54 L417.04,26.66 L417.13,26.79 L417.22,26.91 L417.32,27.03 L417.41,27.16 L417.50,27.28 L417.59,27.41 L417.68,27.54 L417.78,27.67 L417.87,27.80 L417.96,27.93 L418.05,28.06 L418.14,28.20 L418.23,28.33 L418.33,28.46 L418.42,28.60 L418.51,28.74 L418.60,28.87 L418.69,29.01 L418.79,29.15 L418.88,29.29 L418.97,29.43 L419.06,29.57 L419.15,29.71 L419.25,29.86 L419.34,30.00 L419.43,30.15 L419.52,30.29 L419.61,30.44 L419.70,30.59 L419.80,30.73 L419.89,30.88 L419.98,31.03 L420.07,31.18 L420.16,31.33 L420.26,31.48 L420.35,31.64 L420.44,31.79 L420.53,31.94 L420.62,32.10 L420.71,32.25 L420.81,32.41 L420.90,32.56 L420.99,32.72 L421.08,32.88 L421.17,33.04 L421.27,33.19 L421.36,33.35 L421.45,33.51 L421.54,33.67 L421.63,33.83 L421.73,33.99 L421.82,34.16 L421.91,34.32 L422.00,34.48 L422.09,34.64 L422.18,34.81 L422.28,34.97 L422.37,35.14 L422.46,35.30 L422.55,35.47 L422.64,35.63 L422.74,35.80 L422.83,35.96 L422.92,36.13 L423.01,36.30 L423.10,36.47 L423.20,36.63 L423.29,36.80 L423.38,36.97 L423.47,37.14 L423.56,37.31 L423.65,37.48 L423.75,37.65 L423.84,37.82 L423.93,37.99 L424.02,38.16 L424.11,38.33 L424.21,38.50 L424.30,38.67 L424.39,38.84 L424.48,39.01 L424.57,39.19 L424.67,39.36 L424.76,39.53 L424.85,39.70 L424.94,39.87 L425.03,40.05 L425.12,40.22 L425.22,40.39 L425.31,40.56 L425.40,40.74" fill="none" stroke="#1579CF" stroke-width="1.4" stroke-linejoin="round"/>
<path d="M470.70,21.00 L470.82,20.47 L470.95,19.97 L471.07,19.51 L471.20,19.08 L471.32,18.71 L471.44,18.37 L471.57,18.09 L471.69,17.85 L471.81,17.66 L471.94,17.53 L472.06,17.44 L472.19,17.41 L472.31,17.43 L472.43,17.50 L472.56,17.63 L472.68,17.80 L472.81,18.03 L472.93,18.31 L473.05,18.63 L473.18,19.00 L473.30,19.41 L473.43,19.86 L473.55,20.35 L473.67,20.88 L473.80,21.44 L473.92,22.03 L474.04,22.64 L474.17,23.28 L474.29,23.93 L474.42,24.60 L474.54,25.28 L474.66,25.97 L474.79,26.67 L474.91,27.36 L475.04,28.05 L475.16,28.74 L475.28,29.41 L475.41,30.08 L475.53,30.72 L475.65,31.35 L475.78,31.96 L475.90,32.54 L476.03,33.09 L476.15,33.62 L476.27,34.12 L476.40,34.58 L476.52,35.01 L476.65,35.41 L476.77,35.78 L476.89,36.11 L477.02,36.40 L477.14,36.67 L477.27,36.90 L477.39,37.09 L477.51,37.26 L477.64,37.40 L477.76,37.51 L477.88,37.59 L478.01,37.65 L478.13,37.70 L478.26,37.73 L478.38,37.74 L478.50,37.74 L478.63,37.75 L478.75,37.74 L478.88,37.73 L479.00,37.71 L479.12,37.68 L479.25,37.63 L479.37,37.56 L479.49,37.46 L479.62,37.34 L479.74,37.19 L479.87,37.01 L479.99,36.80 L480.11,36.55 L480.24,36.28 L480.36,35.96 L480.49,35.62 L480.61,35.24 L480.73,34.82 L480.86,34.38 L480.98,33.90 L481.11,33.39 L481.23,32.85 L481.35,32.28 L481.48,31.69 L481.60,31.07 L481.72,30.44 L481.85,29.78 L481.97,29.11 L482.10,28.43 L482.22,27.74 L482.34,27.05 L482.47,26.35 L482.59,25.66 L482.72,24.97 L482.84,24.30 L482.96,23.63 L483.09,22.99 L483.21,22.36 L483.34,21.76 L483.46,21.18 L483.58,20.64 L483.71,20.13 L483.83,19.65 L483.95,19.22 L484.08,18.83 L484.20,18.48 L484.33,18.18 L484.45,17.92 L484.57,17.72 L484.70,17.57 L484.82,17.46 L484.95,17.41 L485.07,17.42 L485.19,17.47 L485.32,17.58 L485.44,17.74 L485.56,17.95 L485.69,18.21 L485.81,18.52 L485.94,18.87 L486.06,19.27 L486.18,19.71 L486.31,20.19 L486.43,20.70 L486.56,21.25 L486.68,21.83 L486.80,22.43 L486.93,23.06 L487.05,23.71 L487.18,24.38 L487.30,25.06 L487.42,25.74 L487.55,26.44 L487.67,27.13 L487.79,27.82 L487.92,28.51 L488.04,29.19 L488.17,29.86 L488.29,30.51 L488.41,31.15 L488.54,31.76 L488.66,32.35 L488.79,32.91 L488.91,33.45 L489.03,33.96 L489.16,34.43 L489.28,34.87 L489.40,35.28 L489.53,35.66 L489.65,36.00 L489.78,36.31 L489.90,36.58 L490.02,36.82 L490.15,37.03 L490.27,37.21 L490.40,37.35 L490.52,37.47 L490.64,37.57 L490.77,37.64 L490.89,37.69 L491.02,37.72 L491.14,37.74 L491.26,37.74 L491.39,37.75 L491.51,37.74 L491.63,37.74 L491.76,37.72 L491.88,37.69 L492.01,37.65 L492.13,37.58 L492.25,37.49 L492.38,37.38 L492.50,37.24 L492.63,37.07 L492.75,36.87 L492.87,36.64 L493.00,36.37 L493.12,36.07 L493.24,35.74 L493.37,35.37 L493.49,34.96 L493.62,34.53 L493.74,34.06 L493.86,33.56 L493.99,33.03 L494.11,32.47 L494.24,31.89 L494.36,31.28 L494.48,30.65 L494.61,30.00 L494.73,29.34 L494.86,28.66 L494.98,27.97 L495.10,27.28 L495.23,26.58 L495.35,25.89 L495.47,25.20 L495.60,24.52 L495.72,23.85 L495.85,23.20 L495.97,22.57 L496.09,21.95 L496.22,21.37 L496.34,20.82 L496.47,20.29 L496.59,19.81 L496.71,19.36 L496.84,18.95 L496.96,18.59 L497.08,18.27 L497.21,18.00 L497.33,17.78 L497.46,17.61 L497.58,17.49 L497.70,17.43 L497.83,17.41 L497.95,17.45 L498.08,17.54 L498.20,17.68 L498.32,17.88 L498.45,18.12 L498.57,18.41 L498.70,18.75 L498.82,19.13 L498.94,19.56 L499.07,20.02 L499.19,20.53 L499.31,21.06 L499.44,21.63 L499.56,22.23 L499.69,22.85 L499.81,23.49 L499.93,24.16 L500.06,24.83 L500.18,25.51 L500.31,26.21 L500.43,26.90 L500.55,27.60 L500.68,28.29 L500.80,28.97 L500.93,29.64 L501.05,30.30 L501.17,30.94 L501.30,31.56 L501.42,32.16 L501.54,32.73 L501.67,33.27 L501.79,33.79 L501.92,34.28 L502.04,34.73 L502.16,35.15 L502.29,35.54 L502.41,35.89 L502.54,36.21 L502.66,36.50 L502.78,36.75 L502.91,36.97 L503.03,37.15 L503.15,37.31 L503.28,37.44 L503.40,37.54 L503.53,37.62 L503.65,37.67 L503.77,37.71 L503.90,37.73 L504.02,37.74 L504.15,37.75 L504.27,37.75 L504.39,37.74 L504.52,37.73 L504.64,37.71 L504.77,37.67 L504.89,37.61 L505.01,37.53 L505.14,37.42 L505.26,37.29 L505.38,37.13 L505.51,36.94 L505.63,36.72 L505.76,36.46 L505.88,36.17 L506.00,35.85 L506.13,35.49 L506.25,35.10 L506.38,34.68 L506.50,34.22 L506.62,33.73 L506.75,33.21 L506.87,32.66 L506.99,32.08 L507.12,31.48 L507.24,30.86 L507.37,30.22 L507.49,29.56 L507.61,28.88 L507.74,28.20 L507.86,27.51 L507.99,26.82 L508.11,26.12 L508.23,25.43 L508.36,24.75 L508.48,24.07 L508.61,23.41 L508.73,22.77 L508.85,22.15 L508.98,21.56 L509.10,21.00 L509.22,20.46 L509.35,19.96 L509.47,19.50 L509.60,19.08 L509.72,18.70 L509.84,18.37 L509.97,18.09 L510.09,17.85 L510.22,17.66 L510.34,17.53 L510.46,17.44 L510.59,17.41 L510.71,17.43 L510.83,17.50 L510.96,17.63 L511.08,17.81 L511.21,18.03 L511.33,18.31 L511.45,18.63 L511.58,19.00 L511.70,19.41 L511.83,19.87 L511.95,20.36 L512.07,20.88 L512.20,21.44 L512.32,22.03 L512.45,22.64 L512.57,23.28 L512.69,23.93 L512.82,24.60 L512.94,25.29 L513.06,25.98 L513.19,26.67 L513.31,27.37 L513.44,28.06 L513.56,28.74 L513.68,29.42 L513.81,30.08 L513.93,30.73 L514.06,31.35 L514.18,31.96 L514.30,32.54 L514.43,33.10 L514.55,33.62 L514.67,34.12 L514.80,34.58 L514.92,35.02 L515.05,35.42 L515.17,35.78 L515.29,36.11 L515.42,36.41 L515.54,36.67 L515.67,36.90 L515.79,37.09 L515.91,37.26 L516.04,37.40 L516.16,37.51 L516.29,37.59 L516.41,37.65 L516.53,37.70 L516.66,37.73 L516.78,37.74 L516.90,37.74 L517.03,37.75 L517.15,37.74 L517.28,37.73 L517.40,37.71 L517.52,37.68 L517.65,37.63 L517.77,37.56 L517.90,37.46 L518.02,37.34 L518.14,37.19 L518.27,37.01 L518.39,36.80 L518.52,36.55 L518.64,36.27 L518.76,35.96 L518.89,35.62 L519.01,35.24 L519.13,34.82 L519.26,34.37 L519.38,33.89 L519.51,33.38 L519.63,32.84 L519.75,32.28 L519.88,31.68 L520.00,31.07 L520.13,30.43 L520.25,29.78 L520.37,29.11 L520.50,28.43 L520.62,27.74 L520.74,27.05 L520.87,26.35 L520.99,25.66 L521.12,24.97 L521.24,24.29 L521.36,23.63 L521.49,22.98 L521.61,22.36 L521.74,21.75 L521.86,21.18 L521.98,20.64 L522.11,20.13 L522.23,19.65 L522.36,19.22 L522.48,18.83 L522.60,18.48 L522.73,18.18 L522.85,17.92 L522.97,17.72 L523.10,17.56 L523.22,17.46 L523.35,17.41 L523.47,17.42 L523.59,17.47 L523.72,17.58 L523.84,17.74 L523.97,17.95 L524.09,18.21 L524.21,18.52 L524.34,18.87 L524.46,19.27 L524.58,19.71 L524.71,20.19 L524.83,20.70 L524.96,21.25 L525.08,21.83 L525.20,22.44 L525.33,23.07 L525.45,23.72 L525.58,24.38 L525.70,25.06 L525.82,25.75 L525.95,26.44 L526.07,27.14 L526.20,27.83 L526.32,28.52 L526.44,29.20 L526.57,29.86 L526.69,30.52 L526.81,31.15 L526.94,31.76 L527.06,32.35 L527.19,32.92 L527.31,33.45 L527.43,33.96 L527.56,34.43 L527.68,34.88 L527.81,35.29 L527.93,35.66 L528.05,36.00 L528.18,36.31 L528.30,36.58 L528.42,36.82 L528.55,37.03 L528.67,37.21 L528.80,37.35 L528.92,37.47 L529.04,37.57 L529.17,37.64 L529.29,37.69 L529.42,37.72 L529.54,37.74 L529.66,37.74 L529.79,37.75 L529.91,37.74 L530.04,37.74 L530.16,37.72 L530.28,37.69 L530.41,37.65 L530.53,37.58 L530.65,37.49 L530.78,37.38 L530.90,37.24 L531.03,37.07 L531.15,36.87 L531.27,36.64 L531.40,36.37 L531.52,36.07 L531.65,35.73 L531.77,35.37 L531.89,34.96 L532.02,34.53 L532.14,34.06 L532.26,33.56 L532.39,33.03 L532.51,32.47 L532.64,31.88 L532.76,31.27 L532.88,30.64 L533.01,30.00 L533.13,29.33 L533.26,28.65 L533.38,27.97 L533.50,27.28 L533.63,26.58 L533.75,25.89 L533.88,25.20 L534.00,24.52 L534.12,23.85 L534.25,23.20 L534.37,22.56 L534.49,21.95 L534.62,21.37 L534.74,20.81 L534.87,20.29 L534.99,19.80 L535.11,19.36 L535.24,18.95 L535.36,18.59 L535.49,18.27 L535.61,18.00 L535.73,17.78 L535.86,17.61 L535.98,17.49 L536.11,17.42 L536.23,17.41 L536.35,17.45 L536.48,17.54 L536.60,17.68 L536.72,17.88 L536.85,18.12 L536.97,18.41 L537.10,18.75 L537.22,19.13 L537.34,19.56 L537.47,20.03 L537.59,20.53 L537.72,21.07 L537.84,21.64 L537.96,22.23 L538.09,22.86 L538.21,23.50 L538.33,24.16 L538.46,24.83 L538.58,25.52 L538.71,26.21 L538.83,26.90 L538.95,27.60 L539.08,28.29 L539.20,28.97 L539.33,29.64 L539.45,30.30 L539.57,30.94 L539.70,31.56 L539.82,32.16 L539.95,32.73 L540.07,33.28 L540.19,33.79 L540.32,34.28 L540.44,34.73 L540.56,35.15 L540.69,35.54 L540.81,35.89 L540.94,36.21 L541.06,36.50 L541.18,36.75 L541.31,36.97 L541.43,37.15 L541.56,37.31 L541.68,37.44 L541.80,37.54 L541.93,37.62 L542.05,37.67 L542.17,37.71 L542.30,37.73 L542.42,37.74 L542.55,37.75 L542.67,37.75 L542.79,37.74 L542.92,37.73 L543.04,37.71 L543.17,37.67 L543.29,37.61 L543.41,37.53 L543.54,37.42 L543.66,37.29 L543.79,37.13 L543.91,36.94 L544.03,36.72 L544.16,36.46 L544.28,36.17 L544.40,35.85 L544.53,35.49 L544.65,35.10 L544.78,34.67 L544.90,34.22" fill="none" stroke="#1579CF" stroke-width="1.4" stroke-linejoin="round"/>
<path d="M352.00,104.07 L352.05,103.53 L352.10,103.00 L352.15,102.47 L352.20,101.95 L352.24,101.43 L352.29,100.92 L352.34,100.41 L352.39,99.91 L352.44,99.42 L352.49,98.93 L352.54,98.45 L352.59,97.97 L352.64,97.50 L352.69,97.04 L352.73,96.59 L352.78,96.15 L352.83,95.71 L352.88,95.29 L352.93,94.87 L352.98,94.46 L353.03,94.06 L353.08,93.67 L353.13,93.29 L353.18,92.92 L353.22,92.56 L353.27,92.21 L353.32,91.87 L353.37,91.54 L353.42,91.23 L353.47,90.92 L353.52,90.63 L353.57,90.34 L353.62,90.07 L353.66,89.82 L353.71,89.57 L353.76,89.33 L353.81,89.11 L353.86,88.90 L353.91,88.70 L353.96,88.52 L354.01,88.35 L354.06,88.19 L354.11,88.04 L354.15,87.91 L354.20,87.79 L354.25,87.69 L354.30,87.59 L354.35,87.51 L354.40,87.45 L354.45,87.39 L354.50,87.36 L354.55,87.33 L354.60,87.32 L354.64,87.32 L354.69,87.33 L354.74,87.36 L354.79,87.40 L354.84,87.46 L354.89,87.53 L354.94,87.61 L354.99,87.70 L355.04,87.81 L355.08,87.94 L355.13,88.07 L355.18,88.22 L355.23,88.38 L355.28,88.55 L355.33,88.74 L355.38,88.94 L355.43,89.15 L355.48,89.38 L355.53,89.61 L355.57,89.86 L355.62,90.12 L355.67,90.40 L355.72,90.68 L355.77,90.98 L355.82,91.29 L355.87,91.61 L355.92,91.94 L355.97,92.28 L356.02,92.63 L356.06,92.99 L356.11,93.36 L356.16,93.74 L356.21,94.14 L356.26,94.54 L356.31,94.95 L356.36,95.37 L356.41,95.80 L356.46,96.23 L356.50,96.68 L356.55,97.13 L356.60,97.59 L356.65,98.06 L356.70,98.54 L356.75,99.02 L356.80,99.51 L356.85,100.01 L356.90,100.51 L356.95,101.02 L356.99,101.53 L357.04,102.05 L357.09,102.57 L357.14,103.10 L357.19,103.63 L357.24,104.17 L357.29,104.71 L357.34,105.26 L357.39,105.80 L357.44,106.35 L357.48,106.90 L357.53,107.46 L357.58,108.01 L357.63,108.57 L357.68,109.13 L357.73,109.69 L357.78,110.25 L357.83,110.19 L357.88,109.63 L357.92,109.07 L357.97,108.51 L358.02,107.96 L358.07,107.40 L358.12,106.85 L358.17,106.30 L358.22,105.75 L358.27,105.20 L358.32,104.66 L358.37,104.12 L358.41,103.58 L358.46,103.05 L358.51,102.52 L358.56,102.00 L358.61,101.48 L358.66,100.97 L358.71,100.46 L358.76,99.96 L358.81,99.46 L358.86,98.97 L358.90,98.49 L358.95,98.01 L359.00,97.55 L359.05,97.09 L359.10,96.63 L359.15,96.19 L359.20,95.75 L359.25,95.32 L359.30,94.91 L359.34,94.50 L359.39,94.10 L359.44,93.70 L359.49,93.32 L359.54,92.95 L359.59,92.59 L359.64,92.24 L359.69,91.90 L359.74,91.57 L359.79,91.26 L359.83,90.95 L359.88,90.65 L359.93,90.37 L359.98,90.10 L360.03,89.84 L360.08,89.59 L360.13,89.35 L360.18,89.13 L360.23,88.92 L360.28,88.72 L360.32,88.54 L360.37,88.36 L360.42,88.20 L360.47,88.06 L360.52,87.92 L360.57,87.80 L360.62,87.69 L360.67,87.60 L360.72,87.52 L360.76,87.45 L360.81,87.40 L360.86,87.36 L360.91,87.33 L360.96,87.32 L361.01,87.32 L361.06,87.33 L361.11,87.36 L361.16,87.40 L361.21,87.45 L361.25,87.52 L361.30,87.60 L361.35,87.70 L361.40,87.80 L361.45,87.92 L361.50,88.06 L361.55,88.21 L361.60,88.37 L361.65,88.54 L361.70,88.72 L361.74,88.92 L361.79,89.13 L361.84,89.36 L361.89,89.59 L361.94,89.84 L361.99,90.10 L362.04,90.37 L362.09,90.66 L362.14,90.95 L362.18,91.26 L362.23,91.58 L362.28,91.91 L362.33,92.25 L362.38,92.60 L362.43,92.96 L362.48,93.33 L362.53,93.71 L362.58,94.10 L362.63,94.50 L362.67,94.91 L362.72,95.33 L362.77,95.76 L362.82,96.19 L362.87,96.64 L362.92,97.09 L362.97,97.55 L363.02,98.02 L363.07,98.49 L363.12,98.98 L363.16,99.47 L363.21,99.96 L363.26,100.46 L363.31,100.97 L363.36,101.48 L363.41,102.00 L363.46,102.53 L363.51,103.05 L363.56,103.59 L363.60,104.12 L363.65,104.66 L363.70,105.21 L363.75,105.75 L363.80,106.30 L363.85,106.85 L363.90,107.41 L363.95,107.96 L364.00,108.52 L364.05,109.08 L364.09,109.64 L364.14,110.20 L364.19,110.24 L364.24,109.68 L364.29,109.12 L364.34,108.57 L364.39,108.01 L364.44,107.45 L364.49,106.90 L364.54,106.35 L364.58,105.80 L364.63,105.25 L364.68,104.71 L364.73,104.17 L364.78,103.63 L364.83,103.10 L364.88,102.57 L364.93,102.04 L364.98,101.53 L365.02,101.01 L365.07,100.50 L365.12,100.00 L365.17,99.51 L365.22,99.02 L365.27,98.53 L365.32,98.06 L365.37,97.59 L365.42,97.13 L365.47,96.67 L365.51,96.23 L365.56,95.79 L365.61,95.36 L365.66,94.94 L365.71,94.53 L365.76,94.13 L365.81,93.74 L365.86,93.36 L365.91,92.99 L365.96,92.62 L366.00,92.27 L366.05,91.93 L366.10,91.60 L366.15,91.28 L366.20,90.98 L366.25,90.68 L366.30,90.40 L366.35,90.12 L366.40,89.86 L366.44,89.61 L366.49,89.38 L366.54,89.15 L366.59,88.94 L366.64,88.74 L366.69,88.55 L366.74,88.38 L366.79,88.22 L366.84,88.07 L366.89,87.93 L366.93,87.81 L366.98,87.70 L367.03,87.61 L367.08,87.53 L367.13,87.46 L367.18,87.40 L367.23,87.36 L367.28,87.33 L367.33,87.32 L367.38,87.32 L367.42,87.33 L367.47,87.36 L367.52,87.39 L367.57,87.45 L367.62,87.51 L367.67,87.59 L367.72,87.69 L367.77,87.79 L367.82,87.91 L367.86,88.05 L367.91,88.19 L367.96,88.35 L368.01,88.52 L368.06,88.71 L368.11,88.90 L368.16,89.11 L368.21,89.34 L368.26,89.57 L368.31,89.82 L368.35,90.08 L368.40,90.35 L368.45,90.63 L368.50,90.92 L368.55,91.23 L368.60,91.55 L368.65,91.88 L368.70,92.21 L368.75,92.56 L368.80,92.92 L368.84,93.29 L368.89,93.67 L368.94,94.06 L368.99,94.46 L369.04,94.87 L369.09,95.29 L369.14,95.72 L369.19,96.15 L369.24,96.60 L369.28,97.05 L369.33,97.51 L369.38,97.98 L369.43,98.45 L369.48,98.93 L369.53,99.42 L369.58,99.92 L369.63,100.42 L369.68,100.92 L369.73,101.44 L369.77,101.96 L369.82,102.48 L369.87,103.01 L369.92,103.54 L369.97,104.07 L370.02,104.61 L370.07,105.16 L370.12,105.70 L370.17,106.25 L370.22,106.80 L370.26,107.36 L370.31,107.91 L370.36,108.47 L370.41,109.03 L370.46,109.59 L370.51,110.15 L370.56,110.29 L370.61,109.73 L370.66,109.17 L370.71,108.62 L370.75,108.06 L370.80,107.50 L370.85,106.95 L370.90,106.40 L370.95,105.85 L371.00,105.30 L371.05,104.75 L371.10,104.21 L371.15,103.68 L371.19,103.14 L371.24,102.62 L371.29,102.09 L371.34,101.57 L371.39,101.06 L371.44,100.55 L371.49,100.05 L371.54,99.55 L371.59,99.06 L371.64,98.58 L371.68,98.10 L371.73,97.63 L371.78,97.17 L371.83,96.71 L371.88,96.27 L371.93,95.83 L371.98,95.40 L372.03,94.98 L372.08,94.57 L372.13,94.17 L372.17,93.77 L372.22,93.39 L372.27,93.02 L372.32,92.66 L372.37,92.30 L372.42,91.96 L372.47,91.63 L372.52,91.31 L372.57,91.00 L372.61,90.71 L372.66,90.42 L372.71,90.15 L372.76,89.88 L372.81,89.63 L372.86,89.40 L372.91,89.17 L372.96,88.96 L373.01,88.76 L373.06,88.57 L373.10,88.39 L373.15,88.23 L373.20,88.08 L373.25,87.95 L373.30,87.82 L373.35,87.71 L373.40,87.62 L373.45,87.53 L373.50,87.46 L373.55,87.41 L373.59,87.36 L373.64,87.33 L373.69,87.32 L373.74,87.32 L373.79,87.33 L373.84,87.35 L373.89,87.39 L373.94,87.44 L373.99,87.51 L374.03,87.59 L374.08,87.68 L374.13,87.78 L374.18,87.90 L374.23,88.03 L374.28,88.18 L374.33,88.34 L374.38,88.51 L374.43,88.69 L374.48,88.89 L374.52,89.09 L374.57,89.32 L374.62,89.55 L374.67,89.80 L374.72,90.05 L374.77,90.32 L374.82,90.60 L374.87,90.90 L374.92,91.20 L374.97,91.52 L375.01,91.85 L375.06,92.18 L375.11,92.53 L375.16,92.89 L375.21,93.26 L375.26,93.64 L375.31,94.03 L375.36,94.43 L375.41,94.84 L375.45,95.25 L375.50,95.68 L375.55,96.11 L375.60,96.56 L375.65,97.01 L375.70,97.47 L375.75,97.93 L375.80,98.41 L375.85,98.89 L375.90,99.38 L375.94,99.87 L375.99,100.37 L376.04,100.88 L376.09,101.39 L376.14,101.91 L376.19,102.43 L376.24,102.96 L376.29,103.49 L376.34,104.03 L376.39,104.56 L376.43,105.11 L376.48,105.65 L376.53,106.20 L376.58,106.75 L376.63,107.31 L376.68,107.86 L376.73,108.42 L376.78,108.98 L376.83,109.54 L376.87,110.10 L376.92,110.34 L376.97,109.78 L377.02,109.22 L377.07,108.67 L377.12,108.11 L377.17,107.55 L377.22,107.00 L377.27,106.45 L377.32,105.90 L377.36,105.35 L377.41,104.80 L377.46,104.26 L377.51,103.73 L377.56,103.19 L377.61,102.66 L377.66,102.14 L377.71,101.62 L377.76,101.10 L377.81,100.59 L377.85,100.09 L377.90,99.59 L377.95,99.10 L378.00,98.62 L378.05,98.14 L378.10,97.67 L378.15,97.21 L378.20,96.75 L378.25,96.31 L378.29,95.87 L378.34,95.44 L378.39,95.02 L378.44,94.61 L378.49,94.20 L378.54,93.81 L378.59,93.43 L378.64,93.05 L378.69,92.69 L378.74,92.34 L378.78,91.99 L378.83,91.66 L378.88,91.34 L378.93,91.03 L378.98,90.73 L379.03,90.45 L379.08,90.17 L379.13,89.91 L379.18,89.66 L379.23,89.42 L379.27,89.19 L379.32,88.98 L379.37,88.77 L379.42,88.59 L379.47,88.41 L379.52,88.25 L379.57,88.10 L379.62,87.96 L379.67,87.83 L379.71,87.72 L379.76,87.62 L379.81,87.54 L379.86,87.47 L379.91,87.41 L379.96,87.37 L380.01,87.34 L380.06,87.32 L380.11,87.32 L380.16,87.33 L380.20,87.35 L380.25,87.39 L380.30,87.44 L380.35,87.50 L380.40,87.58 L380.45,87.67 L380.50,87.77 L380.55,87.89 L380.60,88.02 L380.65,88.16 L380.69,88.32 L380.74,88.49 L380.79,88.67 L380.84,88.87 L380.89,89.07 L380.94,89.30 L380.99,89.53 L381.04,89.77 L381.09,90.03 L381.13,90.30 L381.18,90.58 L381.23,90.87 L381.28,91.17 L381.33,91.49 L381.38,91.82 L381.43,92.15 L381.48,92.50 L381.53,92.86 L381.58,93.23 L381.62,93.60 L381.67,93.99 L381.72,94.39 L381.77,94.80 L381.82,95.21 L381.87,95.64 L381.92,96.07 L381.97,96.52 L382.02,96.97 L382.07,97.43 L382.11,97.89 L382.16,98.36 L382.21,98.85 L382.26,99.33 L382.31,99.83 L382.36,100.33 L382.41,100.83 L382.46,101.34 L382.51,101.86 L382.55,102.38 L382.60,102.91 L382.65,103.44 L382.70,103.98 L382.75,104.52 L382.80,105.06 L382.85,105.60 L382.90,106.15 L382.95,106.70 L383.00,107.26 L383.04,107.81 L383.09,108.37 L383.14,108.93 L383.19,109.49 L383.24,110.05 L383.29,110.39 L383.34,109.83 L383.39,109.27 L383.44,108.72 L383.49,108.16 L383.53,107.60 L383.58,107.05 L383.63,106.50 L383.68,105.94 L383.73,105.40 L383.78,104.85 L383.83,104.31 L383.88,103.77 L383.93,103.24 L383.97,102.71 L384.02,102.19 L384.07,101.67 L384.12,101.15 L384.17,100.64 L384.22,100.14 L384.27,99.64 L384.32,99.15 L384.37,98.66 L384.42,98.18 L384.46,97.71 L384.51,97.25 L384.56,96.80 L384.61,96.35 L384.66,95.91 L384.71,95.48 L384.76,95.06 L384.81,94.64 L384.86,94.24 L384.91,93.84 L384.95,93.46 L385.00,93.09 L385.05,92.72 L385.10,92.37 L385.15,92.02 L385.20,91.69 L385.25,91.37 L385.30,91.06 L385.35,90.76 L385.39,90.47 L385.44,90.19 L385.49,89.93 L385.54,89.68 L385.59,89.44 L385.64,89.21 L385.69,88.99 L385.74,88.79 L385.79,88.60 L385.84,88.42 L385.88,88.26 L385.93,88.11 L385.98,87.97 L386.03,87.84 L386.08,87.73 L386.13,87.63 L386.18,87.55 L386.23,87.48 L386.28,87.42 L386.33,87.37 L386.37,87.34 L386.42,87.32 L386.47,87.32 L386.52,87.32 L386.57,87.35 L386.62,87.38 L386.67,87.43 L386.72,87.49 L386.77,87.57 L386.81,87.66 L386.86,87.76 L386.91,87.88 L386.96,88.01 L387.01,88.15 L387.06,88.31 L387.11,88.47 L387.16,88.66 L387.21,88.85 L387.26,89.06 L387.30,89.27 L387.35,89.51 L387.40,89.75 L387.45,90.01 L387.50,90.27 L387.55,90.55 L387.60,90.84 L387.65,91.15 L387.70,91.46 L387.75,91.79 L387.79,92.12 L387.84,92.47 L387.89,92.82 L387.94,93.19 L387.99,93.57 L388.04,93.96 L388.09,94.35 L388.14,94.76 L388.19,95.18 L388.23,95.60 L388.28,96.03 L388.33,96.48 L388.38,96.93 L388.43,97.38 L388.48,97.85 L388.53,98.32 L388.58,98.80 L388.63,99.29 L388.68,99.78 L388.72,100.28 L388.77,100.79 L388.82,101.30 L388.87,101.81 L388.92,102.34 L388.97,102.86 L389.02,103.39 L389.07,103.93 L389.12,104.47 L389.17,105.01 L389.21,105.55 L389.26,106.10 L389.31,106.65 L389.36,107.21 L389.41,107.76 L389.46,108.32 L389.51,108.88 L389.56,109.44 L389.61,110.00 L389.65,110.44 L389.70,109.88 L389.75,109.33 L389.80,108.77 L389.85,108.21 L389.90,107.65 L389.95,107.10 L390.00,106.54 L390.05,105.99 L390.10,105.45 L390.14,104.90 L390.19,104.36 L390.24,103.82 L390.29,103.29 L390.34,102.76 L390.39,102.23 L390.44,101.71 L390.49,101.20 L390.54,100.69 L390.59,100.18 L390.63,99.68 L390.68,99.19 L390.73,98.71 L390.78,98.23 L390.83,97.76 L390.88,97.29 L390.93,96.84 L390.98,96.39 L391.03,95.95 L391.07,95.52 L391.12,95.09 L391.17,94.68 L391.22,94.28 L391.27,93.88 L391.32,93.49 L391.37,93.12 L391.42,92.75 L391.47,92.40 L391.52,92.05 L391.56,91.72 L391.61,91.40 L391.66,91.09 L391.71,90.79 L391.76,90.50 L391.81,90.22 L391.86,89.95 L391.91,89.70 L391.96,89.46 L392.01,89.23 L392.05,89.01 L392.10,88.81 L392.15,88.62 L392.20,88.44 L392.25,88.27 L392.30,88.12 L392.35,87.98 L392.40,87.85 L392.45,87.74 L392.49,87.64 L392.54,87.55 L392.59,87.48 L392.64,87.42 L392.69,87.37 L392.74,87.34 L392.79,87.32 L392.84,87.32 L392.89,87.32 L392.94,87.34 L392.98,87.38 L393.03,87.43 L393.08,87.49 L393.13,87.56 L393.18,87.65 L393.23,87.75 L393.28,87.87 L393.33,88.00 L393.38,88.14 L393.43,88.29 L393.47,88.46 L393.52,88.64 L393.57,88.83 L393.62,89.04 L393.67,89.25 L393.72,89.48 L393.77,89.73 L393.82,89.98 L393.87,90.25 L393.91,90.53 L393.96,90.82 L394.01,91.12 L394.06,91.43 L394.11,91.76 L394.16,92.09 L394.21,92.44 L394.26,92.79 L394.31,93.16 L394.36,93.54 L394.40,93.92 L394.45,94.32 L394.50,94.72 L394.55,95.14 L394.60,95.56 L394.65,95.99 L394.70,96.44 L394.75,96.88 L394.80,97.34 L394.85,97.81 L394.89,98.28 L394.94,98.76 L394.99,99.24 L395.04,99.74 L395.09,100.24 L395.14,100.74 L395.19,101.25 L395.24,101.77 L395.29,102.29 L395.33,102.81 L395.38,103.35 L395.43,103.88 L395.48,104.42 L395.53,104.96 L395.58,105.51 L395.63,106.05 L395.68,106.60 L395.73,107.16 L395.78,107.71 L395.82,108.27 L395.87,108.83 L395.92,109.39 L395.97,109.94 L396.02,110.50 L396.07,109.94 L396.12,109.38 L396.17,108.82 L396.22,108.26 L396.27,107.70 L396.31,107.15 L396.36,106.59 L396.41,106.04 L396.46,105.50 L396.51,104.95 L396.56,104.41 L396.61,103.87 L396.66,103.34 L396.71,102.81 L396.75,102.28 L396.80,101.76 L396.85,101.24 L396.90,100.73 L396.95,100.23 L397.00,99.73 L397.05,99.24 L397.10,98.75 L397.15,98.27 L397.20,97.80 L397.24,97.33 L397.29,96.88 L397.34,96.43 L397.39,95.99 L397.44,95.55 L397.49,95.13 L397.54,94.72 L397.59,94.31 L397.64,93.92 L397.69,93.53 L397.73,93.15 L397.78,92.79 L397.83,92.43 L397.88,92.08 L397.93,91.75 L397.98,91.43 L398.03,91.11 L398.08,90.81 L398.13,90.52 L398.17,90.24 L398.22,89.98 L398.27,89.72 L398.32,89.48 L398.37,89.25 L398.42,89.03 L398.47,88.83 L398.52,88.64 L398.57,88.46 L398.62,88.29 L398.66,88.13 L398.71,87.99 L398.76,87.87 L398.81,87.75 L398.86,87.65 L398.91,87.56 L398.96,87.49 L399.01,87.43 L399.06,87.38 L399.11,87.34 L399.15,87.32 L399.20,87.32 L399.25,87.32 L399.30,87.34 L399.35,87.38 L399.40,87.42 L399.45,87.48 L399.50,87.56 L399.55,87.64 L399.59,87.74 L399.64,87.86 L399.69,87.98 L399.74,88.12 L399.79,88.28 L399.84,88.44 L399.89,88.62 L399.94,88.81 L399.99,89.02 L400.04,89.23 L400.08,89.46 L400.13,89.70 L400.18,89.96 L400.23,90.22 L400.28,90.50 L400.33,90.79 L400.38,91.09 L400.43,91.40 L400.48,91.73 L400.53,92.06 L400.57,92.40 L400.62,92.76 L400.67,93.13 L400.72,93.50 L400.77,93.89 L400.82,94.28 L400.87,94.69 L400.92,95.10 L400.97,95.52 L401.01,95.96 L401.06,96.40 L401.11,96.84 L401.16,97.30 L401.21,97.76 L401.26,98.24 L401.31,98.71 L401.36,99.20 L401.41,99.69 L401.46,100.19 L401.50,100.70 L401.55,101.21 L401.60,101.72 L401.65,102.24 L401.70,102.77 L401.75,103.30 L401.80,103.83 L401.85,104.37 L401.90,104.91 L401.95,105.46 L401.99,106.00 L402.04,106.55 L402.09,107.11 L402.14,107.66 L402.19,108.22 L402.24,108.78 L402.29,109.33 L402.34,109.89 L402.39,110.45 L402.43,109.99 L402.48,109.43 L402.53,108.87 L402.58,108.31 L402.63,107.75 L402.68,107.20 L402.73,106.64 L402.78,106.09 L402.83,105.55 L402.88,105.00 L402.92,104.46 L402.97,103.92 L403.02,103.38 L403.07,102.85 L403.12,102.33 L403.17,101.81 L403.22,101.29 L403.27,100.78 L403.32,100.27 L403.37,99.77 L403.41,99.28 L403.46,98.79 L403.51,98.31 L403.56,97.84 L403.61,97.38 L403.66,96.92 L403.71,96.47 L403.76,96.03 L403.81,95.59 L403.85,95.17 L403.90,94.75 L403.95,94.35 L404.00,93.95 L404.05,93.56 L404.10,93.19 L404.15,92.82 L404.20,92.46 L404.25,92.12 L404.30,91.78 L404.34,91.45 L404.39,91.14 L404.44,90.84 L404.49,90.55 L404.54,90.27 L404.59,90.00 L404.64,89.75 L404.69,89.50 L404.74,89.27 L404.79,89.05 L404.83,88.85 L404.88,88.65 L404.93,88.47 L404.98,88.30 L405.03,88.15 L405.08,88.01 L405.13,87.88 L405.18,87.76 L405.23,87.66 L405.27,87.57 L405.32,87.49 L405.37,87.43 L405.42,87.38 L405.47,87.35 L405.52,87.32 L405.57,87.32 L405.62,87.32 L405.67,87.34 L405.72,87.37 L405.76,87.42 L405.81,87.48 L405.86,87.55 L405.91,87.63 L405.96,87.73 L406.01,87.85 L406.06,87.97 L406.11,88.11 L406.16,88.26 L406.21,88.43 L406.25,88.60 L406.30,88.80 L406.35,89.00 L406.40,89.21 L406.45,89.44 L406.50,89.68 L406.55,89.94 L406.60,90.20 L406.65,90.48 L406.69,90.76 L406.74,91.06 L406.79,91.37 L406.84,91.70 L406.89,92.03 L406.94,92.37 L406.99,92.73 L407.04,93.09 L407.09,93.47 L407.14,93.85 L407.18,94.25 L407.23,94.65 L407.28,95.06 L407.33,95.49 L407.38,95.92 L407.43,96.36 L407.48,96.80 L407.53,97.26 L407.58,97.72 L407.63,98.19 L407.67,98.67 L407.72,99.16 L407.77,99.65 L407.82,100.15 L407.87,100.65 L407.92,101.16 L407.97,101.67 L408.02,102.19 L408.07,102.72 L408.12,103.25 L408.16,103.78 L408.21,104.32 L408.26,104.86 L408.31,105.41 L408.36,105.95 L408.41,106.50 L408.46,107.06 L408.51,107.61 L408.56,108.17 L408.60,108.73 L408.65,109.28 L408.70,109.84 L408.75,110.40 L408.80,110.04 L408.85,109.48 L408.90,108.92 L408.95,108.36 L409.00,107.80 L409.05,107.25 L409.09,106.69 L409.14,106.14 L409.19,105.59 L409.24,105.05 L409.29,104.51 L409.34,103.97 L409.39,103.43 L409.44,102.90 L409.49,102.37 L409.54,101.85 L409.58,101.34 L409.63,100.82 L409.68,100.32 L409.73,99.82 L409.78,99.32 L409.83,98.84 L409.88,98.36 L409.93,97.88 L409.98,97.42 L410.02,96.96 L410.07,96.51 L410.12,96.07 L410.17,95.63 L410.22,95.21 L410.27,94.79 L410.32,94.38 L410.37,93.99 L410.42,93.60 L410.47,93.22 L410.51,92.85 L410.56,92.49 L410.61,92.15 L410.66,91.81 L410.71,91.48 L410.76,91.17 L410.81,90.87 L410.86,90.57 L410.91,90.29 L410.96,90.02 L411.00,89.77 L411.05,89.52 L411.10,89.29 L411.15,89.07 L411.20,88.86 L411.25,88.67 L411.30,88.49 L411.35,88.32 L411.40,88.16 L411.44,88.02 L411.49,87.89 L411.54,87.77 L411.59,87.67 L411.64,87.58 L411.69,87.50 L411.74,87.44 L411.79,87.39 L411.84,87.35 L411.89,87.33 L411.93,87.32 L411.98,87.32 L412.03,87.34 L412.08,87.37 L412.13,87.41 L412.18,87.47 L412.23,87.54 L412.28,87.63 L412.33,87.72 L412.38,87.84 L412.42,87.96 L412.47,88.10 L412.52,88.25 L412.57,88.41 L412.62,88.59 L412.67,88.78 L412.72,88.98 L412.77,89.19 L412.82,89.42 L412.86,89.66 L412.91,89.91 L412.96,90.18 L413.01,90.45 L413.06,90.74 L413.11,91.04 L413.16,91.35 L413.21,91.67 L413.26,92.00 L413.31,92.34 L413.35,92.69 L413.40,93.06 L413.45,93.43 L413.50,93.82 L413.55,94.21 L413.60,94.61 L413.65,95.03 L413.70,95.45 L413.75,95.88 L413.80,96.32 L413.84,96.76 L413.89,97.22 L413.94,97.68 L413.99,98.15 L414.04,98.63 L414.09,99.11 L414.14,99.60 L414.19,100.10 L414.24,100.60 L414.28,101.11 L414.33,101.63 L414.38,102.15 L414.43,102.67 L414.48,103.20 L414.53,103.73 L414.58,104.27 L414.63,104.81 L414.68,105.36 L414.73,105.90 L414.77,106.45 L414.82,107.01 L414.87,107.56 L414.92,108.12 L414.97,108.68 L415.02,109.23 L415.07,109.79 L415.12,110.35 L415.17,110.09 L415.22,109.53 L415.26,108.97 L415.31,108.41 L415.36,107.85 L415.41,107.30 L415.46,106.74 L415.51,106.19 L415.56,105.64 L415.61,105.10 L415.66,104.56 L415.70,104.02 L415.75,103.48 L415.80,102.95 L415.85,102.42 L415.90,101.90 L415.95,101.38 L416.00,100.87 L416.05,100.36 L416.10,99.86 L416.15,99.37 L416.19,98.88 L416.24,98.40 L416.29,97.93 L416.34,97.46 L416.39,97.00 L416.44,96.55 L416.49,96.11 L416.54,95.67 L416.59,95.25 L416.64,94.83 L416.68,94.42 L416.73,94.02 L416.78,93.63 L416.83,93.25 L416.88,92.88 L416.93,92.53 L416.98,92.18 L417.03,91.84 L417.08,91.51 L417.12,91.20 L417.17,90.89 L417.22,90.60 L417.27,90.32 L417.32,90.05 L417.37,89.79 L417.42,89.55 L417.47,89.31 L417.52,89.09 L417.57,88.88 L417.61,88.69 L417.66,88.50 L417.71,88.33 L417.76,88.18 L417.81,88.03 L417.86,87.90 L417.91,87.78 L417.96,87.68 L418.01,87.58 L418.06,87.51 L418.10,87.44 L418.15,87.39 L418.20,87.35 L418.25,87.33 L418.30,87.32 L418.35,87.32 L418.40,87.34 L418.45,87.36 L418.50,87.41 L418.54,87.46 L418.59,87.53 L418.64,87.62 L418.69,87.71 L418.74,87.82 L418.79,87.95 L418.84,88.08 L418.89,88.23 L418.94,88.40 L418.99,88.57 L419.03,88.76 L419.08,88.96 L419.13,89.17 L419.18,89.40 L419.23,89.64 L419.28,89.89 L419.33,90.15 L419.38,90.43 L419.43,90.71 L419.48,91.01 L419.52,91.32 L419.57,91.64 L419.62,91.97 L419.67,92.31 L419.72,92.66 L419.77,93.03 L419.82,93.40 L419.87,93.78 L419.92,94.17 L419.96,94.58 L420.01,94.99 L420.06,95.41 L420.11,95.84 L420.16,96.28 L420.21,96.72 L420.26,97.18 L420.31,97.64 L420.36,98.11 L420.41,98.58 L420.45,99.07 L420.50,99.56 L420.55,100.05 L420.60,100.56 L420.65,101.07 L420.70,101.58 L420.75,102.10 L420.80,102.62 L420.85,103.15 L420.90,103.69 L420.94,104.22 L420.99,104.76 L421.04,105.31 L421.09,105.86 L421.14,106.40 L421.19,106.96 L421.24,107.51 L421.29,108.07 L421.34,108.62 L421.38,109.18 L421.43,109.74 L421.48,110.30 L421.53,110.14 L421.58,109.58 L421.63,109.02 L421.68,108.46 L421.73,107.90 L421.78,107.35 L421.83,106.79 L421.87,106.24 L421.92,105.69 L421.97,105.15 L422.02,104.60 L422.07,104.06 L422.12,103.53 L422.17,103.00 L422.22,102.47 L422.27,101.95 L422.32,101.43 L422.36,100.92 L422.41,100.41 L422.46,99.91 L422.51,99.41 L422.56,98.92 L422.61,98.44 L422.66,97.97 L422.71,97.50 L422.76,97.04 L422.80,96.59 L422.85,96.15 L422.90,95.71 L422.95,95.28 L423.00,94.87 L423.05,94.46 L423.10,94.06 L423.15,93.67 L423.20,93.29 L423.25,92.92 L423.29,92.56 L423.34,92.21 L423.39,91.87 L423.44,91.54 L423.49,91.23 L423.54,90.92 L423.59,90.63 L423.64,90.34 L423.69,90.07 L423.74,89.81 L423.78,89.57 L423.83,89.33 L423.88,89.11 L423.93,88.90 L423.98,88.70 L424.03,88.52 L424.08,88.35 L424.13,88.19 L424.18,88.04 L424.22,87.91 L424.27,87.79 L424.32,87.69 L424.37,87.59 L424.42,87.51 L424.47,87.45 L424.52,87.39 L424.57,87.35 L424.62,87.33 L424.67,87.32 L424.71,87.32 L424.76,87.33 L424.81,87.36 L424.86,87.40 L424.91,87.46 L424.96,87.53 L425.01,87.61 L425.06,87.71 L425.11,87.81 L425.16,87.94 L425.20,88.07 L425.25,88.22 L425.30,88.38 L425.35,88.56 L425.40,88.74" fill="none" stroke="#1579CF" stroke-width="1.4" stroke-linejoin="round"/>
<path d="M470.70,104.65 L470.75,104.75 L470.80,104.86 L470.85,104.98 L470.90,105.10 L470.95,105.23 L471.00,105.37 L471.05,105.52 L471.10,105.67 L471.15,105.83 L471.19,105.99 L471.24,106.16 L471.29,106.33 L471.34,106.50 L471.39,106.68 L471.44,106.87 L471.49,107.05 L471.54,107.23 L471.59,107.42 L471.64,107.60 L471.69,107.79 L471.74,107.97 L471.79,108.16 L471.84,108.34 L471.89,108.51 L471.94,108.68 L471.99,108.85 L472.04,109.02 L472.09,109.18 L472.14,109.33 L472.18,109.47 L472.23,109.61 L472.28,109.74 L472.33,109.86 L472.38,109.97 L472.43,110.08 L472.48,110.17 L472.53,110.25 L472.58,110.32 L472.63,110.38 L472.68,110.43 L472.73,110.47 L472.78,110.49 L472.83,110.50 L472.88,110.50 L472.93,110.48 L472.98,110.45 L473.03,110.40 L473.08,110.35 L473.13,110.27 L473.17,110.19 L473.22,110.08 L473.27,109.97 L473.32,109.84 L473.37,109.69 L473.42,109.53 L473.47,109.36 L473.52,109.17 L473.57,108.96 L473.62,108.75 L473.67,108.52 L473.72,108.27 L473.77,108.01 L473.82,107.74 L473.87,107.46 L473.92,107.17 L473.97,106.86 L474.02,106.54 L474.07,106.21 L474.12,105.87 L474.16,105.52 L474.21,105.17 L474.26,104.80 L474.31,104.43 L474.36,104.04 L474.41,103.65 L474.46,103.26 L474.51,102.86 L474.56,102.45 L474.61,102.04 L474.66,101.63 L474.71,101.22 L474.76,100.80 L474.81,100.38 L474.86,99.96 L474.91,99.55 L474.96,99.13 L475.01,98.72 L475.06,98.30 L475.11,97.90 L475.15,97.49 L475.20,97.09 L475.25,96.70 L475.30,96.32 L475.35,95.94 L475.40,95.57 L475.45,95.21 L475.50,94.86 L475.55,94.51 L475.60,94.18 L475.65,93.86 L475.70,93.56 L475.75,93.26 L475.80,92.98 L475.85,92.71 L475.90,92.46 L475.95,92.22 L476.00,92.00 L476.05,91.80 L476.10,91.61 L476.14,91.43 L476.19,91.27 L476.24,91.14 L476.29,91.01 L476.34,90.91 L476.39,90.82 L476.44,90.76 L476.49,90.71 L476.54,90.67 L476.59,90.66 L476.64,90.67 L476.69,90.69 L476.74,90.73 L476.79,90.80 L476.84,90.87 L476.89,90.97 L476.94,91.09 L476.99,91.22 L477.04,91.37 L477.09,91.54 L477.13,91.72 L477.18,91.92 L477.23,92.14 L477.28,92.37 L477.33,92.62 L477.38,92.88 L477.43,93.15 L477.48,93.44 L477.53,93.74 L477.58,94.06 L477.63,94.38 L477.68,94.72 L477.73,95.07 L477.78,95.43 L477.83,95.79 L477.88,96.17 L477.93,96.55 L477.98,96.94 L478.03,97.34 L478.08,97.74 L478.12,98.15 L478.17,98.56 L478.22,98.97 L478.27,99.39 L478.32,99.80 L478.37,100.22 L478.42,100.64 L478.47,101.06 L478.52,101.47 L478.57,101.89 L478.62,102.30 L478.67,102.70 L478.72,103.11 L478.77,103.50 L478.82,103.89 L478.87,104.28 L478.92,104.66 L478.97,105.03 L479.02,105.39 L479.07,105.74 L479.11,106.08 L479.16,106.42 L479.21,106.74 L479.26,107.05 L479.31,107.35 L479.36,107.64 L479.41,107.91 L479.46,108.17 L479.51,108.42 L479.56,108.66 L479.61,108.88 L479.66,109.09 L479.71,109.29 L479.76,109.47 L479.81,109.63 L479.86,109.78 L479.91,109.92 L479.96,110.04 L480.01,110.15 L480.06,110.24 L480.10,110.32 L480.15,110.38 L480.20,110.43 L480.25,110.47 L480.30,110.49 L480.35,110.50 L480.40,110.49 L480.45,110.48 L480.50,110.45 L480.55,110.40 L480.60,110.35 L480.65,110.28 L480.70,110.20 L480.75,110.11 L480.80,110.01 L480.85,109.91 L480.90,109.79 L480.95,109.66 L481.00,109.53 L481.05,109.38 L481.09,109.23 L481.14,109.08 L481.19,108.92 L481.24,108.75 L481.29,108.58 L481.34,108.40 L481.39,108.22 L481.44,108.04 L481.49,107.86 L481.54,107.68 L481.59,107.49 L481.64,107.30 L481.69,107.12 L481.74,106.94 L481.79,106.75 L481.84,106.57 L481.89,106.40 L481.94,106.22 L481.99,106.05 L482.04,105.89 L482.08,105.73 L482.13,105.57 L482.18,105.43 L482.23,105.29 L482.28,105.15 L482.33,105.02 L482.38,104.90 L482.43,104.79 L482.48,104.69 L482.53,104.60 L482.58,104.51 L482.63,104.44 L482.68,104.37 L482.73,104.32 L482.78,104.27 L482.83,104.24 L482.88,104.21 L482.93,104.20 L482.98,104.20 L483.03,104.20 L483.07,104.22 L483.12,104.25 L483.17,104.28 L483.22,104.33 L483.27,104.39 L483.32,104.46 L483.37,104.53 L483.42,104.62 L483.47,104.72 L483.52,104.82 L483.57,104.93 L483.62,105.05 L483.67,105.18 L483.72,105.32 L483.77,105.46 L483.82,105.61 L483.87,105.77 L483.92,105.93 L483.97,106.09 L484.02,106.26 L484.06,106.44 L484.11,106.62 L484.16,106.80 L484.21,106.98 L484.26,107.16 L484.31,107.35 L484.36,107.53 L484.41,107.72 L484.46,107.90 L484.51,108.09 L484.56,108.27 L484.61,108.45 L484.66,108.62 L484.71,108.79 L484.76,108.96 L484.81,109.12 L484.86,109.27 L484.91,109.42 L484.96,109.56 L485.01,109.69 L485.05,109.82 L485.10,109.93 L485.15,110.04 L485.20,110.14 L485.25,110.22 L485.30,110.30 L485.35,110.36 L485.40,110.41 L485.45,110.45 L485.50,110.48 L485.55,110.50 L485.60,110.50 L485.65,110.49 L485.70,110.46 L485.75,110.42 L485.80,110.37 L485.85,110.30 L485.90,110.22 L485.95,110.12 L486.00,110.01 L486.04,109.89 L486.09,109.75 L486.14,109.59 L486.19,109.42 L486.24,109.24 L486.29,109.04 L486.34,108.83 L486.39,108.60 L486.44,108.37 L486.49,108.11 L486.54,107.85 L486.59,107.57 L486.64,107.28 L486.69,106.98 L486.74,106.66 L486.79,106.34 L486.84,106.00 L486.89,105.66 L486.94,105.30 L486.99,104.94 L487.03,104.57 L487.08,104.19 L487.13,103.80 L487.18,103.41 L487.23,103.01 L487.28,102.61 L487.33,102.20 L487.38,101.79 L487.43,101.37 L487.48,100.96 L487.53,100.54 L487.58,100.12 L487.63,99.70 L487.68,99.29 L487.73,98.87 L487.78,98.46 L487.83,98.05 L487.88,97.64 L487.93,97.24 L487.98,96.85 L488.02,96.46 L488.07,96.08 L488.12,95.71 L488.17,95.34 L488.22,94.99 L488.27,94.64 L488.32,94.31 L488.37,93.98 L488.42,93.67 L488.47,93.37 L488.52,93.09 L488.57,92.81 L488.62,92.56 L488.67,92.31 L488.72,92.08 L488.77,91.87 L488.82,91.67 L488.87,91.49 L488.92,91.33 L488.97,91.19 L489.01,91.06 L489.06,90.95 L489.11,90.85 L489.16,90.78 L489.21,90.72 L489.26,90.68 L489.31,90.66 L489.36,90.66 L489.41,90.68 L489.46,90.72 L489.51,90.77 L489.56,90.84 L489.61,90.93 L489.66,91.04 L489.71,91.17 L489.76,91.31 L489.81,91.47 L489.86,91.65 L489.91,91.84 L489.96,92.05 L490.00,92.28 L490.05,92.52 L490.10,92.78 L490.15,93.05 L490.20,93.33 L490.25,93.63 L490.30,93.94 L490.35,94.26 L490.40,94.59 L490.45,94.94 L490.50,95.29 L490.55,95.66 L490.60,96.03 L490.65,96.41 L490.70,96.80 L490.75,97.19 L490.80,97.59 L490.85,97.99 L490.90,98.40 L490.95,98.81 L490.99,99.23 L491.04,99.65 L491.09,100.06 L491.14,100.48 L491.19,100.90 L491.24,101.32 L491.29,101.73 L491.34,102.14 L491.39,102.55 L491.44,102.95 L491.49,103.35 L491.54,103.75 L491.59,104.13 L491.64,104.52 L491.69,104.89 L491.74,105.25 L491.79,105.61 L491.84,105.96 L491.89,106.29 L491.94,106.62 L491.98,106.93 L492.03,107.24 L492.08,107.53 L492.13,107.81 L492.18,108.08 L492.23,108.33 L492.28,108.57 L492.33,108.80 L492.38,109.01 L492.43,109.21 L492.48,109.40 L492.53,109.57 L492.58,109.73 L492.63,109.87 L492.68,110.00 L492.73,110.11 L492.78,110.21 L492.83,110.29 L492.88,110.36 L492.93,110.42 L492.97,110.46 L493.02,110.48 L493.07,110.50 L493.12,110.50 L493.17,110.49 L493.22,110.46 L493.27,110.42 L493.32,110.37 L493.37,110.31 L493.42,110.23 L493.47,110.15 L493.52,110.05 L493.57,109.95 L493.62,109.83 L493.67,109.71 L493.72,109.58 L493.77,109.44 L493.82,109.29 L493.87,109.14 L493.92,108.98 L493.96,108.81 L494.01,108.64 L494.06,108.47 L494.11,108.29 L494.16,108.11 L494.21,107.93 L494.26,107.75 L494.31,107.56 L494.36,107.37 L494.41,107.19 L494.46,107.00 L494.51,106.82 L494.56,106.64 L494.61,106.46 L494.66,106.29 L494.71,106.12 L494.76,105.95 L494.81,105.79 L494.86,105.63 L494.91,105.48 L494.95,105.34 L495.00,105.20 L495.05,105.07 L495.10,104.95 L495.15,104.83 L495.20,104.73 L495.25,104.63 L495.30,104.54 L495.35,104.47 L495.40,104.40 L495.45,104.34 L495.50,104.29 L495.55,104.25 L495.60,104.22 L495.65,104.20 L495.70,104.20 L495.75,104.20 L495.80,104.21 L495.85,104.23 L495.90,104.27 L495.94,104.31 L495.99,104.37 L496.04,104.43 L496.09,104.50 L496.14,104.59 L496.19,104.68 L496.24,104.78 L496.29,104.89 L496.34,105.01 L496.39,105.13 L496.44,105.27 L496.49,105.41 L496.54,105.55 L496.59,105.71 L496.64,105.87 L496.69,106.03 L496.74,106.20 L496.79,106.37 L496.84,106.55 L496.89,106.73 L496.93,106.91 L496.98,107.09 L497.03,107.28 L497.08,107.46 L497.13,107.65 L497.18,107.84 L497.23,108.02 L497.28,108.20 L497.33,108.38 L497.38,108.56 L497.43,108.73 L497.48,108.89 L497.53,109.06 L497.58,109.21 L497.63,109.36 L497.68,109.51 L497.73,109.64 L497.78,109.77 L497.83,109.89 L497.88,110.00 L497.92,110.10 L497.97,110.19 L498.02,110.27 L498.07,110.34 L498.12,110.40 L498.17,110.44 L498.22,110.47 L498.27,110.49 L498.32,110.50 L498.37,110.49 L498.42,110.47 L498.47,110.44 L498.52,110.39 L498.57,110.33 L498.62,110.25 L498.67,110.16 L498.72,110.06 L498.77,109.94 L498.82,109.80 L498.87,109.65 L498.91,109.49 L498.96,109.31 L499.01,109.12 L499.06,108.91 L499.11,108.69 L499.16,108.46 L499.21,108.21 L499.26,107.95 L499.31,107.68 L499.36,107.39 L499.41,107.09 L499.46,106.78 L499.51,106.46 L499.56,106.13 L499.61,105.79 L499.66,105.44 L499.71,105.08 L499.76,104.71 L499.81,104.33 L499.86,103.95 L499.90,103.56 L499.95,103.16 L500.00,102.76 L500.05,102.35 L500.10,101.94 L500.15,101.53 L500.20,101.11 L500.25,100.70 L500.30,100.28 L500.35,99.86 L500.40,99.44 L500.45,99.03 L500.50,98.61 L500.55,98.20 L500.60,97.80 L500.65,97.39 L500.70,97.00 L500.75,96.61 L500.80,96.22 L500.85,95.85 L500.89,95.48 L500.94,95.12 L500.99,94.77 L501.04,94.43 L501.09,94.10 L501.14,93.79 L501.19,93.48 L501.24,93.19 L501.29,92.91 L501.34,92.65 L501.39,92.40 L501.44,92.17 L501.49,91.95 L501.54,91.75 L501.59,91.56 L501.64,91.39 L501.69,91.24 L501.74,91.10 L501.79,90.99 L501.84,90.89 L501.88,90.80 L501.93,90.74 L501.98,90.70 L502.03,90.67 L502.08,90.66 L502.13,90.67 L502.18,90.70 L502.23,90.75 L502.28,90.81 L502.33,90.90 L502.38,91.00 L502.43,91.12 L502.48,91.25 L502.53,91.41 L502.58,91.58 L502.63,91.77 L502.68,91.97 L502.73,92.19 L502.78,92.43 L502.83,92.68 L502.87,92.94 L502.92,93.22 L502.97,93.52 L503.02,93.82 L503.07,94.14 L503.12,94.47 L503.17,94.81 L503.22,95.16 L503.27,95.52 L503.32,95.89 L503.37,96.26 L503.42,96.65 L503.47,97.04 L503.52,97.44 L503.57,97.84 L503.62,98.25 L503.67,98.66 L503.72,99.07 L503.77,99.49 L503.82,99.91 L503.86,100.32 L503.91,100.74 L503.96,101.16 L504.01,101.58 L504.06,101.99 L504.11,102.40 L504.16,102.80 L504.21,103.20 L504.26,103.60 L504.31,103.99 L504.36,104.37 L504.41,104.75 L504.46,105.12 L504.51,105.48 L504.56,105.83 L504.61,106.17 L504.66,106.50 L504.71,106.82 L504.76,107.13 L504.81,107.42 L504.85,107.71 L504.90,107.98 L504.95,108.24 L505.00,108.48 L505.05,108.72 L505.10,108.94 L505.15,109.14 L505.20,109.33 L505.25,109.51 L505.30,109.67 L505.35,109.82 L505.40,109.95 L505.45,110.07 L505.50,110.17 L505.55,110.26 L505.60,110.34 L505.65,110.40 L505.70,110.44 L505.75,110.48 L505.80,110.49 L505.84,110.50 L505.89,110.49 L505.94,110.47 L505.99,110.44 L506.04,110.39 L506.09,110.33 L506.14,110.26 L506.19,110.18 L506.24,110.09 L506.29,109.99 L506.34,109.88 L506.39,109.76 L506.44,109.63 L506.49,109.49 L506.54,109.35 L506.59,109.20 L506.64,109.04 L506.69,108.88 L506.74,108.71 L506.79,108.54 L506.83,108.36 L506.88,108.18 L506.93,108.00 L506.98,107.81 L507.03,107.63 L507.08,107.44 L507.13,107.26 L507.18,107.07 L507.23,106.89 L507.28,106.71 L507.33,106.53 L507.38,106.35 L507.43,106.18 L507.48,106.01 L507.53,105.85 L507.58,105.69 L507.63,105.54 L507.68,105.39 L507.73,105.25 L507.78,105.12 L507.82,104.99 L507.87,104.88 L507.92,104.77 L507.97,104.67 L508.02,104.58 L508.07,104.49 L508.12,104.42 L508.17,104.36 L508.22,104.31 L508.27,104.26 L508.32,104.23 L508.37,104.21 L508.42,104.20 L508.47,104.20 L508.52,104.21 L508.57,104.22 L508.62,104.25 L508.67,104.29 L508.72,104.34 L508.77,104.40 L508.81,104.47 L508.86,104.55 L508.91,104.64 L508.96,104.74 L509.01,104.85 L509.06,104.96 L509.11,105.08 L509.16,105.22 L509.21,105.35 L509.26,105.50 L509.31,105.65 L509.36,105.81 L509.41,105.97 L509.46,106.14 L509.51,106.31 L509.56,106.48 L509.61,106.66 L509.66,106.84 L509.71,107.03 L509.76,107.21 L509.80,107.40 L509.85,107.58 L509.90,107.77 L509.95,107.95 L510.00,108.13 L510.05,108.31 L510.10,108.49 L510.15,108.66 L510.20,108.83 L510.25,109.00 L510.30,109.16 L510.35,109.31 L510.40,109.45 L510.45,109.59 L510.50,109.72 L510.55,109.85 L510.60,109.96 L510.65,110.06 L510.70,110.16 L510.75,110.24 L510.79,110.31 L510.84,110.38 L510.89,110.43 L510.94,110.46 L510.99,110.49 L511.04,110.50 L511.09,110.50 L511.14,110.48 L511.19,110.45 L511.24,110.41 L511.29,110.35 L511.34,110.28 L511.39,110.20 L511.44,110.10 L511.49,109.98 L511.54,109.85 L511.59,109.71 L511.64,109.55 L511.69,109.38 L511.74,109.19 L511.78,108.99 L511.83,108.78 L511.88,108.55 L511.93,108.30 L511.98,108.05 L512.03,107.78 L512.08,107.50 L512.13,107.20 L512.18,106.90 L512.23,106.58 L512.28,106.25 L512.33,105.92 L512.38,105.57 L512.43,105.21 L512.48,104.85 L512.53,104.47 L512.58,104.09 L512.63,103.70 L512.68,103.31 L512.73,102.91 L512.77,102.50 L512.82,102.10 L512.87,101.68 L512.92,101.27 L512.97,100.85 L513.02,100.43 L513.07,100.02 L513.12,99.60 L513.17,99.18 L513.22,98.77 L513.27,98.36 L513.32,97.95 L513.37,97.54 L513.42,97.14 L513.47,96.75 L513.52,96.37 L513.57,95.99 L513.62,95.61 L513.67,95.25 L513.72,94.90 L513.76,94.56 L513.81,94.22 L513.86,93.90 L513.91,93.59 L513.96,93.30 L514.01,93.02 L514.06,92.75 L514.11,92.49 L514.16,92.25 L514.21,92.03 L514.26,91.82 L514.31,91.63 L514.36,91.45 L514.41,91.29 L514.46,91.15 L514.51,91.03 L514.56,90.92 L514.61,90.83 L514.66,90.76 L514.71,90.71 L514.75,90.68 L514.80,90.66 L514.85,90.67 L514.90,90.69 L514.95,90.73 L515.00,90.79 L515.05,90.86 L515.10,90.96 L515.15,91.07 L515.20,91.20 L515.25,91.35 L515.30,91.51 L515.35,91.70 L515.40,91.89 L515.45,92.11 L515.50,92.34 L515.55,92.58 L515.60,92.84 L515.65,93.12 L515.70,93.40 L515.74,93.71 L515.79,94.02 L515.84,94.34 L515.89,94.68 L515.94,95.03 L515.99,95.38 L516.04,95.75 L516.09,96.12 L516.14,96.50 L516.19,96.89 L516.24,97.29 L516.29,97.69 L516.34,98.10 L516.39,98.50 L516.44,98.92 L516.49,99.33 L516.54,99.75 L516.59,100.17 L516.64,100.59 L516.69,101.00 L516.73,101.42 L516.78,101.83 L516.83,102.24 L516.88,102.65 L516.93,103.05 L516.98,103.45 L517.03,103.84 L517.08,104.23 L517.13,104.61 L517.18,104.98 L517.23,105.34 L517.28,105.70 L517.33,106.04 L517.38,106.37 L517.43,106.70 L517.48,107.01 L517.53,107.31 L517.58,107.60 L517.63,107.88 L517.68,108.14 L517.72,108.39 L517.77,108.63 L517.82,108.85 L517.87,109.07 L517.92,109.26 L517.97,109.44 L518.02,109.61 L518.07,109.76 L518.12,109.90 L518.17,110.03 L518.22,110.14 L518.27,110.23 L518.32,110.31 L518.37,110.38 L518.42,110.43 L518.47,110.47 L518.52,110.49 L518.57,110.50 L518.62,110.50 L518.67,110.48 L518.71,110.45 L518.76,110.41 L518.81,110.36 L518.86,110.29 L518.91,110.21 L518.96,110.13 L519.01,110.03 L519.06,109.92 L519.11,109.80 L519.16,109.68 L519.21,109.54 L519.26,109.40 L519.31,109.25 L519.36,109.10 L519.41,108.94 L519.46,108.77 L519.51,108.60 L519.56,108.43 L519.61,108.25 L519.66,108.07 L519.70,107.88 L519.75,107.70 L519.80,107.51 L519.85,107.33 L519.90,107.14 L519.95,106.96 L520.00,106.78 L520.05,106.60 L520.10,106.42 L520.15,106.24 L520.20,106.07 L520.25,105.91 L520.30,105.75 L520.35,105.59 L520.40,105.45 L520.45,105.30 L520.50,105.17 L520.55,105.04 L520.60,104.92 L520.65,104.81 L520.69,104.70 L520.74,104.61 L520.79,104.52 L520.84,104.45 L520.89,104.38 L520.94,104.33 L520.99,104.28 L521.04,104.24 L521.09,104.22 L521.14,104.20 L521.19,104.20 L521.24,104.20 L521.29,104.22 L521.34,104.24 L521.39,104.28 L521.44,104.32 L521.49,104.38 L521.54,104.45 L521.59,104.52 L521.64,104.61 L521.68,104.70 L521.73,104.81 L521.78,104.92 L521.83,105.04 L521.88,105.17 L521.93,105.30 L521.98,105.44 L522.03,105.59 L522.08,105.75 L522.13,105.91 L522.18,106.07 L522.23,106.24 L522.28,106.42 L522.33,106.59 L522.38,106.77 L522.43,106.96 L522.48,107.14 L522.53,107.33 L522.58,107.51 L522.63,107.70 L522.67,107.88 L522.72,108.06 L522.77,108.25 L522.82,108.42 L522.87,108.60 L522.92,108.77 L522.97,108.94 L523.02,109.10 L523.07,109.25 L523.12,109.40 L523.17,109.54 L523.22,109.68 L523.27,109.80 L523.32,109.92 L523.37,110.03 L523.42,110.12 L523.47,110.21 L523.52,110.29 L523.57,110.35 L523.62,110.41 L523.66,110.45 L523.71,110.48 L523.76,110.50 L523.81,110.50 L523.86,110.49 L523.91,110.47 L523.96,110.43 L524.01,110.38 L524.06,110.31 L524.11,110.23 L524.16,110.14 L524.21,110.03 L524.26,109.90 L524.31,109.77 L524.36,109.61 L524.41,109.45 L524.46,109.26 L524.51,109.07 L524.56,108.86 L524.61,108.63 L524.65,108.40 L524.70,108.15 L524.75,107.88 L524.80,107.60 L524.85,107.32 L524.90,107.02 L524.95,106.70 L525.00,106.38 L525.05,106.05 L525.10,105.70 L525.15,105.35 L525.20,104.99 L525.25,104.61 L525.30,104.24 L525.35,103.85 L525.40,103.46 L525.45,103.06 L525.50,102.66 L525.55,102.25 L525.60,101.84 L525.64,101.43 L525.69,101.01 L525.74,100.59 L525.79,100.17 L525.84,99.76 L525.89,99.34 L525.94,98.92 L525.99,98.51 L526.04,98.10 L526.09,97.70 L526.14,97.29 L526.19,96.90 L526.24,96.51 L526.29,96.13 L526.34,95.75 L526.39,95.39 L526.44,95.03 L526.49,94.68 L526.54,94.35 L526.59,94.02 L526.63,93.71 L526.68,93.41 L526.73,93.12 L526.78,92.85 L526.83,92.59 L526.88,92.34 L526.93,92.11 L526.98,91.90 L527.03,91.70 L527.08,91.52 L527.13,91.35 L527.18,91.20 L527.23,91.07 L527.28,90.96 L527.33,90.86 L527.38,90.79 L527.43,90.73 L527.48,90.69 L527.53,90.67 L527.58,90.66 L527.62,90.68 L527.67,90.71 L527.72,90.76 L527.77,90.83 L527.82,90.92 L527.87,91.03 L527.92,91.15 L527.97,91.29 L528.02,91.45 L528.07,91.63 L528.12,91.82 L528.17,92.03 L528.22,92.25 L528.27,92.49 L528.32,92.74 L528.37,93.01 L528.42,93.30 L528.47,93.59 L528.52,93.90 L528.57,94.22 L528.61,94.55 L528.66,94.89 L528.71,95.25 L528.76,95.61 L528.81,95.98 L528.86,96.36 L528.91,96.75 L528.96,97.14 L529.01,97.54 L529.06,97.94 L529.11,98.35 L529.16,98.76 L529.21,99.18 L529.26,99.59 L529.31,100.01 L529.36,100.43 L529.41,100.85 L529.46,101.26 L529.51,101.68 L529.56,102.09 L529.60,102.50 L529.65,102.90 L529.70,103.30 L529.75,103.70 L529.80,104.09 L529.85,104.47 L529.90,104.84 L529.95,105.21 L530.00,105.56 L530.05,105.91 L530.10,106.25 L530.15,106.58 L530.20,106.89 L530.25,107.20 L530.30,107.49 L530.35,107.78 L530.40,108.04 L530.45,108.30 L530.50,108.54 L530.55,108.77 L530.59,108.99 L530.64,109.19 L530.69,109.38 L530.74,109.55 L530.79,109.71 L530.84,109.85 L530.89,109.98 L530.94,110.10 L530.99,110.20 L531.04,110.28 L531.09,110.35 L531.14,110.41 L531.19,110.45 L531.24,110.48 L531.29,110.50 L531.34,110.50 L531.39,110.49 L531.44,110.46 L531.49,110.43 L531.54,110.38 L531.58,110.32 L531.63,110.24 L531.68,110.16 L531.73,110.07 L531.78,109.96 L531.83,109.85 L531.88,109.73 L531.93,109.60 L531.98,109.46 L532.03,109.31 L532.08,109.16 L532.13,109.00 L532.18,108.83 L532.23,108.67 L532.28,108.49 L532.33,108.31 L532.38,108.13 L532.43,107.95 L532.48,107.77 L532.53,107.58 L532.57,107.40 L532.62,107.21 L532.67,107.03 L532.72,106.84 L532.77,106.66 L532.82,106.48 L532.87,106.31 L532.92,106.14 L532.97,105.97 L533.02,105.81 L533.07,105.65 L533.12,105.50 L533.17,105.36 L533.22,105.22 L533.27,105.09 L533.32,104.96 L533.37,104.85 L533.42,104.74 L533.47,104.64 L533.52,104.56 L533.56,104.48 L533.61,104.41 L533.66,104.35 L533.71,104.30 L533.76,104.26 L533.81,104.23 L533.86,104.21 L533.91,104.20 L533.96,104.20 L534.01,104.21 L534.06,104.23 L534.11,104.26 L534.16,104.31 L534.21,104.36 L534.26,104.42 L534.31,104.49 L534.36,104.58 L534.41,104.67 L534.46,104.77 L534.51,104.87 L534.55,104.99 L534.60,105.12 L534.65,105.25 L534.70,105.39 L534.75,105.54 L534.80,105.69 L534.85,105.85 L534.90,106.01 L534.95,106.18 L535.00,106.35 L535.05,106.53 L535.10,106.71 L535.15,106.89 L535.20,107.07 L535.25,107.26 L535.30,107.44 L535.35,107.63 L535.40,107.81 L535.45,108.00 L535.50,108.18 L535.54,108.36 L535.59,108.53 L535.64,108.71 L535.69,108.87 L535.74,109.04 L535.79,109.19 L535.84,109.35 L535.89,109.49 L535.94,109.63 L535.99,109.76 L536.04,109.88 L536.09,109.99 L536.14,110.09 L536.19,110.18 L536.24,110.26 L536.29,110.33 L536.34,110.39 L536.39,110.44 L536.44,110.47 L536.49,110.49 L536.53,110.50 L536.58,110.50 L536.63,110.48 L536.68,110.44 L536.73,110.40 L536.78,110.34 L536.83,110.26 L536.88,110.17 L536.93,110.07 L536.98,109.95 L537.03,109.82 L537.08,109.67 L537.13,109.51 L537.18,109.33 L537.23,109.14 L537.28,108.94 L537.33,108.72 L537.38,108.49 L537.43,108.24 L537.48,107.98 L537.52,107.71 L537.57,107.43 L537.62,107.13 L537.67,106.82 L537.72,106.50 L537.77,106.17 L537.82,105.83 L537.87,105.48 L537.92,105.12 L537.97,104.75 L538.02,104.38 L538.07,104.00 L538.12,103.61 L538.17,103.21 L538.22,102.81 L538.27,102.40 L538.32,101.99 L538.37,101.58 L538.42,101.17 L538.47,100.75 L538.51,100.33 L538.56,99.91 L538.61,99.50 L538.66,99.08 L538.71,98.67 L538.76,98.25 L538.81,97.85 L538.86,97.44 L538.91,97.05 L538.96,96.65 L539.01,96.27 L539.06,95.89 L539.11,95.52 L539.16,95.16 L539.21,94.81 L539.26,94.47 L539.31,94.14 L539.36,93.83 L539.41,93.52 L539.46,93.23 L539.50,92.95 L539.55,92.68 L539.60,92.43 L539.65,92.20 L539.70,91.98 L539.75,91.77 L539.80,91.58 L539.85,91.41 L539.90,91.26 L539.95,91.12 L540.00,91.00 L540.05,90.90 L540.10,90.81 L540.15,90.75 L540.20,90.70 L540.25,90.67 L540.30,90.66 L540.35,90.67 L540.40,90.70 L540.45,90.74 L540.49,90.80 L540.54,90.89 L540.59,90.98 L540.64,91.10 L540.69,91.24 L540.74,91.39 L540.79,91.56 L540.84,91.74 L540.89,91.95 L540.94,92.16 L540.99,92.40 L541.04,92.65 L541.09,92.91 L541.14,93.19 L541.19,93.48 L541.24,93.78 L541.29,94.10 L541.34,94.43 L541.39,94.76 L541.44,95.11 L541.48,95.47 L541.53,95.84 L541.58,96.22 L541.63,96.60 L541.68,96.99 L541.73,97.39 L541.78,97.79 L541.83,98.20 L541.88,98.61 L541.93,99.02 L541.98,99.44 L542.03,99.85 L542.08,100.27 L542.13,100.69 L542.18,101.11 L542.23,101.52 L542.28,101.94 L542.33,102.35 L542.38,102.75 L542.43,103.15 L542.47,103.55 L542.52,103.94 L542.57,104.33 L542.62,104.70 L542.67,105.07 L542.72,105.43 L542.77,105.78 L542.82,106.12 L542.87,106.46 L542.92,106.78 L542.97,107.09 L543.02,107.39 L543.07,107.67 L543.12,107.94 L543.17,108.21 L543.22,108.45 L543.27,108.69 L543.32,108.91 L543.37,109.12 L543.42,109.31 L543.46,109.49 L543.51,109.65 L543.56,109.80 L543.61,109.93 L543.66,110.05 L543.71,110.16 L543.76,110.25 L543.81,110.33 L543.86,110.39 L543.91,110.44 L543.96,110.47 L544.01,110.49 L544.06,110.50 L544.11,110.49 L544.16,110.47 L544.21,110.44 L544.26,110.40 L544.31,110.34 L544.36,110.27 L544.41,110.19 L544.45,110.10 L544.50,110.00 L544.55,109.89 L544.60,109.77 L544.65,109.65 L544.70,109.51 L544.75,109.37 L544.80,109.22 L544.85,109.06 L544.90,108.90" fill="none" stroke="#1579CF" stroke-width="1.4" stroke-linejoin="round"/>
<path d="M352.00,178.18 L352.12,177.98 L352.25,177.75 L352.37,177.48 L352.49,177.18 L352.61,176.85 L352.74,176.49 L352.86,176.10 L352.98,175.68 L353.10,175.23 L353.23,174.76 L353.35,174.26 L353.47,173.75 L353.59,173.21 L353.72,172.66 L353.84,172.09 L353.96,171.51 L354.08,170.91 L354.21,170.31 L354.33,169.70 L354.45,169.08 L354.57,168.46 L354.70,167.85 L354.82,167.23 L354.94,166.62 L355.06,166.01 L355.19,165.41 L355.31,164.82 L355.43,164.25 L355.55,163.69 L355.68,163.14 L355.80,162.62 L355.92,162.11 L356.04,161.63 L356.17,161.18 L356.29,160.74 L356.41,160.34 L356.53,159.96 L356.66,159.62 L356.78,159.31 L356.90,159.02 L357.02,158.78 L357.15,158.56 L357.27,158.39 L357.39,158.25 L357.51,158.14 L357.64,158.07 L357.76,158.04 L357.88,158.05 L358.00,158.09 L358.13,158.17 L358.25,158.29 L358.37,158.44 L358.49,158.63 L358.62,158.86 L358.74,159.12 L358.86,159.41 L358.98,159.73 L359.11,160.09 L359.23,160.47 L359.35,160.89 L359.47,161.33 L359.60,161.79 L359.72,162.28 L359.84,162.79 L359.96,163.32 L360.09,163.87 L360.21,164.44 L360.33,165.02 L360.46,165.61 L360.58,166.21 L360.70,166.82 L360.82,167.44 L360.95,168.05 L361.07,168.67 L361.19,169.29 L361.31,169.90 L361.44,170.51 L361.56,171.11 L361.68,171.70 L361.80,172.28 L361.93,172.85 L362.05,173.39 L362.17,173.92 L362.29,174.43 L362.42,174.92 L362.54,175.38 L362.66,175.82 L362.78,176.23 L362.91,176.61 L363.03,176.96 L363.15,177.29 L363.27,177.57 L363.40,177.83 L363.52,178.05 L363.64,178.24 L363.76,178.38 L363.89,178.50 L364.01,178.57 L364.13,178.61 L364.25,178.62 L364.38,178.58 L364.50,178.51 L364.62,178.40 L364.74,178.26 L364.87,178.07 L364.99,177.86 L365.11,177.61 L365.23,177.32 L365.36,177.01 L365.48,176.66 L365.60,176.28 L365.72,175.87 L365.85,175.44 L365.97,174.98 L366.09,174.49 L366.21,173.99 L366.34,173.46 L366.46,172.91 L366.58,172.35 L366.70,171.78 L366.83,171.19 L366.95,170.59 L367.07,169.98 L367.19,169.37 L367.32,168.75 L367.44,168.13 L367.56,167.51 L367.68,166.90 L367.81,166.29 L367.93,165.68 L368.05,165.09 L368.17,164.51 L368.30,163.94 L368.42,163.39 L368.54,162.86 L368.67,162.34 L368.79,161.85 L368.91,161.38 L369.03,160.94 L369.16,160.52 L369.28,160.13 L369.40,159.77 L369.52,159.45 L369.65,159.15 L369.77,158.89 L369.89,158.66 L370.01,158.46 L370.14,158.31 L370.26,158.18 L370.38,158.10 L370.50,158.05 L370.63,158.04 L370.75,158.07 L370.87,158.13 L370.99,158.23 L371.12,158.37 L371.24,158.54 L371.36,158.75 L371.48,158.99 L371.61,159.27 L371.73,159.58 L371.85,159.92 L371.97,160.29 L372.10,160.69 L372.22,161.12 L372.34,161.58 L372.46,162.05 L372.59,162.56 L372.71,163.08 L372.83,163.62 L372.95,164.18 L373.08,164.75 L373.20,165.34 L373.32,165.94 L373.44,166.54 L373.57,167.15 L373.69,167.77 L373.81,168.39 L373.93,169.01 L374.06,169.62 L374.18,170.23 L374.30,170.84 L374.42,171.43 L374.55,172.02 L374.67,172.59 L374.79,173.14 L374.91,173.68 L375.04,174.20 L375.16,174.70 L375.28,175.17 L375.40,175.62 L375.53,176.05 L375.65,176.44 L375.77,176.81 L375.89,177.14 L376.02,177.45 L376.14,177.72 L376.26,177.95 L376.38,178.15 L376.51,178.32 L376.63,178.45 L376.75,178.54 L376.88,178.60 L377.00,178.62 L377.12,178.60 L377.24,178.55 L377.37,178.46 L377.49,178.33 L377.61,178.16 L377.73,177.96 L377.86,177.73 L377.98,177.46 L378.10,177.15 L378.22,176.82 L378.35,176.46 L378.47,176.06 L378.59,175.64 L378.71,175.19 L378.84,174.72 L378.96,174.22 L379.08,173.70 L379.20,173.17 L379.33,172.61 L379.45,172.04 L379.57,171.46 L379.69,170.86 L379.82,170.26 L379.94,169.65 L380.06,169.03 L380.18,168.41 L380.31,167.79 L380.43,167.18 L380.55,166.56 L380.67,165.96 L380.80,165.36 L380.92,164.77 L381.04,164.20 L381.16,163.64 L381.29,163.10 L381.41,162.58 L381.53,162.07 L381.65,161.59 L381.78,161.14 L381.90,160.71 L382.02,160.31 L382.14,159.93 L382.27,159.59 L382.39,159.28 L382.51,159.00 L382.63,158.76 L382.76,158.55 L382.88,158.37 L383.00,158.24 L383.12,158.13 L383.25,158.07 L383.37,158.04 L383.49,158.05 L383.61,158.10 L383.74,158.18 L383.86,158.30 L383.98,158.46 L384.10,158.65 L384.23,158.88 L384.35,159.14 L384.47,159.43 L384.59,159.76 L384.72,160.12 L384.84,160.51 L384.96,160.92 L385.09,161.36 L385.21,161.83 L385.33,162.32 L385.45,162.84 L385.58,163.37 L385.70,163.92 L385.82,164.49 L385.94,165.07 L386.07,165.66 L386.19,166.26 L386.31,166.87 L386.43,167.49 L386.56,168.11 L386.68,168.72 L386.80,169.34 L386.92,169.96 L387.05,170.56 L387.17,171.16 L387.29,171.75 L387.41,172.33 L387.54,172.89 L387.66,173.44 L387.78,173.97 L387.90,174.47 L388.03,174.96 L388.15,175.42 L388.27,175.86 L388.39,176.26 L388.52,176.64 L388.64,176.99 L388.76,177.31 L388.88,177.60 L389.01,177.85 L389.13,178.07 L389.25,178.25 L389.37,178.40 L389.50,178.51 L389.62,178.58 L389.74,178.62 L389.86,178.61 L389.99,178.58 L390.11,178.50 L390.23,178.39 L390.35,178.24 L390.48,178.06 L390.60,177.84 L390.72,177.58 L390.84,177.30 L390.97,176.98 L391.09,176.63 L391.21,176.25 L391.33,175.84 L391.46,175.40 L391.58,174.94 L391.70,174.45 L391.82,173.94 L391.95,173.41 L392.07,172.87 L392.19,172.30 L392.31,171.73 L392.44,171.14 L392.56,170.54 L392.68,169.93 L392.81,169.31 L392.93,168.70 L393.05,168.08 L393.17,167.46 L393.30,166.84 L393.42,166.23 L393.54,165.63 L393.66,165.04 L393.79,164.46 L393.91,163.89 L394.03,163.34 L394.15,162.81 L394.28,162.30 L394.40,161.81 L394.52,161.34 L394.64,160.90 L394.77,160.49 L394.89,160.10 L395.01,159.74 L395.13,159.42 L395.26,159.13 L395.38,158.87 L395.50,158.64 L395.62,158.45 L395.75,158.29 L395.87,158.18 L395.99,158.09 L396.11,158.05 L396.24,158.04 L396.36,158.07 L396.48,158.14 L396.60,158.24 L396.73,158.38 L396.85,158.56 L396.97,158.77 L397.09,159.01 L397.22,159.29 L397.34,159.61 L397.46,159.95 L397.58,160.32 L397.71,160.73 L397.83,161.16 L397.95,161.61 L398.07,162.10 L398.20,162.60 L398.32,163.12 L398.44,163.67 L398.56,164.23 L398.69,164.80 L398.81,165.39 L398.93,165.99 L399.05,166.59 L399.18,167.21 L399.30,167.82 L399.42,168.44 L399.54,169.06 L399.67,169.68 L399.79,170.29 L399.91,170.89 L400.03,171.48 L400.16,172.07 L400.28,172.64 L400.40,173.19 L400.52,173.73 L400.65,174.24 L400.77,174.74 L400.89,175.21 L401.02,175.66 L401.14,176.08 L401.26,176.47 L401.38,176.84 L401.51,177.17 L401.63,177.47 L401.75,177.74 L401.87,177.97 L402.00,178.17 L402.12,178.33 L402.24,178.46 L402.36,178.55 L402.49,178.60 L402.61,178.62 L402.73,178.60 L402.85,178.54 L402.98,178.45 L403.10,178.31 L403.22,178.15 L403.34,177.94 L403.47,177.70 L403.59,177.43 L403.71,177.13 L403.83,176.79 L403.96,176.42 L404.08,176.03 L404.20,175.60 L404.32,175.15 L404.45,174.68 L404.57,174.18 L404.69,173.66 L404.81,173.12 L404.94,172.56 L405.06,171.99 L405.18,171.41 L405.30,170.81 L405.43,170.21 L405.55,169.60 L405.67,168.98 L405.79,168.36 L405.92,167.74 L406.04,167.13 L406.16,166.51 L406.28,165.91 L406.41,165.31 L406.53,164.72 L406.65,164.15 L406.77,163.59 L406.90,163.05 L407.02,162.53 L407.14,162.03 L407.26,161.55 L407.39,161.10 L407.51,160.67 L407.63,160.27 L407.75,159.90 L407.88,159.56 L408.00,159.26 L408.12,158.98 L408.24,158.74 L408.37,158.53 L408.49,158.36 L408.61,158.23 L408.73,158.13 L408.86,158.07 L408.98,158.04 L409.10,158.05 L409.23,158.10 L409.35,158.19 L409.47,158.31 L409.59,158.47 L409.72,158.67 L409.84,158.90 L409.96,159.16 L410.08,159.46 L410.21,159.79 L410.33,160.15 L410.45,160.54 L410.57,160.96 L410.70,161.40 L410.82,161.87 L410.94,162.37 L411.06,162.88 L411.19,163.42 L411.31,163.97 L411.43,164.54 L411.55,165.12 L411.68,165.71 L411.80,166.31 L411.92,166.92 L412.04,167.54 L412.17,168.16 L412.29,168.78 L412.41,169.39 L412.53,170.01 L412.66,170.61 L412.78,171.21 L412.90,171.80 L413.02,172.38 L413.15,172.94 L413.27,173.48 L413.39,174.01 L413.51,174.52 L413.64,175.00 L413.76,175.46 L413.88,175.89 L414.00,176.30 L414.13,176.67 L414.25,177.02 L414.37,177.34 L414.49,177.62 L414.62,177.87 L414.74,178.08 L414.86,178.26 L414.98,178.41 L415.11,178.51 L415.23,178.58 L415.35,178.62 L415.47,178.61 L415.60,178.57 L415.72,178.49 L415.84,178.38 L415.96,178.23 L416.09,178.04 L416.21,177.82 L416.33,177.56 L416.45,177.27 L416.58,176.95 L416.70,176.60 L416.82,176.21 L416.94,175.80 L417.07,175.36 L417.19,174.90 L417.31,174.41 L417.44,173.90 L417.56,173.37 L417.68,172.82 L417.80,172.26 L417.93,171.68 L418.05,171.09 L418.17,170.48 L418.29,169.88 L418.42,169.26 L418.54,168.64 L418.66,168.02 L418.78,167.41 L418.91,166.79 L419.03,166.18 L419.15,165.58 L419.27,164.99 L419.40,164.41 L419.52,163.85 L419.64,163.30 L419.76,162.77 L419.89,162.26 L420.01,161.77 L420.13,161.30 L420.25,160.87 L420.38,160.45 L420.50,160.07 L420.62,159.72 L420.74,159.39 L420.87,159.10 L420.99,158.85 L421.11,158.62 L421.23,158.43 L421.36,158.28 L421.48,158.17 L421.60,158.09 L421.72,158.05 L421.85,158.04 L421.97,158.08 L422.09,158.15 L422.21,158.25 L422.34,158.39 L422.46,158.57 L422.58,158.79 L422.70,159.04 L422.83,159.32 L422.95,159.63 L423.07,159.98 L423.19,160.36 L423.32,160.76 L423.44,161.20 L423.56,161.65 L423.68,162.14 L423.81,162.64 L423.93,163.17 L424.05,163.71 L424.17,164.27 L424.30,164.85 L424.42,165.44 L424.54,166.04 L424.66,166.64 L424.79,167.26 L424.91,167.87 L425.03,168.49 L425.15,169.11 L425.28,169.73 L425.40,170.34" fill="none" stroke="#1579CF" stroke-width="1.4" stroke-linejoin="round"/>
<path d="M470.70,155.11 L470.82,155.17 L470.95,155.27 L471.07,155.41 L471.20,155.59 L471.32,155.81 L471.44,156.07 L471.57,156.38 L471.69,156.72 L471.81,157.09 L471.94,157.50 L472.06,157.95 L472.19,158.42 L472.31,158.93 L472.43,159.47 L472.56,160.03 L472.68,160.61 L472.81,161.22 L472.93,161.85 L473.05,162.49 L473.18,163.15 L473.30,163.82 L473.43,164.50 L473.55,165.19 L473.67,165.89 L473.80,166.58 L473.92,167.28 L474.04,167.97 L474.17,168.65 L474.29,169.33 L474.42,170.00 L474.54,170.65 L474.66,171.29 L474.79,171.91 L474.91,172.51 L475.04,173.08 L475.16,173.63 L475.28,174.15 L475.41,174.65 L475.53,175.11 L475.65,175.54 L475.78,175.94 L475.90,176.30 L476.03,176.62 L476.15,176.91 L476.27,177.15 L476.40,177.36 L476.52,177.52 L476.65,177.64 L476.77,177.72 L476.89,177.76 L477.02,177.75 L477.14,177.71 L477.27,177.62 L477.39,177.48 L477.51,177.31 L477.64,177.09 L477.76,176.84 L477.88,176.54 L478.01,176.21 L478.13,175.84 L478.26,175.44 L478.38,175.00 L478.50,174.53 L478.63,174.02 L478.75,173.49 L478.88,172.94 L479.00,172.36 L479.12,171.75 L479.25,171.13 L479.37,170.49 L479.49,169.83 L479.62,169.16 L479.74,168.48 L479.87,167.79 L479.99,167.10 L480.11,166.41 L480.24,165.71 L480.36,165.02 L480.49,164.33 L480.61,163.65 L480.73,162.98 L480.86,162.33 L480.98,161.69 L481.11,161.07 L481.23,160.46 L481.35,159.88 L481.48,159.33 L481.60,158.80 L481.72,158.30 L481.85,157.83 L481.97,157.40 L482.10,156.99 L482.22,156.63 L482.34,156.30 L482.47,156.01 L482.59,155.75 L482.72,155.54 L482.84,155.37 L482.96,155.24 L483.09,155.15 L483.21,155.11 L483.34,155.10 L483.46,155.14 L483.58,155.23 L483.71,155.35 L483.83,155.52 L483.95,155.73 L484.08,155.98 L484.20,156.26 L484.33,156.59 L484.45,156.95 L484.57,157.35 L484.70,157.78 L484.82,158.25 L484.95,158.74 L485.07,159.27 L485.19,159.82 L485.32,160.40 L485.44,161.00 L485.56,161.62 L485.69,162.26 L485.81,162.91 L485.94,163.58 L486.06,164.26 L486.18,164.94 L486.31,165.63 L486.43,166.33 L486.56,167.02 L486.68,167.72 L486.80,168.41 L486.93,169.09 L487.05,169.76 L487.18,170.42 L487.30,171.06 L487.42,171.68 L487.55,172.29 L487.67,172.87 L487.79,173.43 L487.92,173.97 L488.04,174.47 L488.17,174.95 L488.29,175.39 L488.41,175.80 L488.54,176.17 L488.66,176.51 L488.79,176.81 L488.91,177.07 L489.03,177.29 L489.16,177.47 L489.28,177.60 L489.40,177.70 L489.53,177.75 L489.65,177.76 L489.78,177.73 L489.90,177.65 L490.02,177.54 L490.15,177.38 L490.27,177.18 L490.40,176.94 L490.52,176.65 L490.64,176.34 L490.77,175.98 L490.89,175.59 L491.02,175.16 L491.14,174.70 L491.26,174.21 L491.39,173.69 L491.51,173.14 L491.63,172.57 L491.76,171.97 L491.88,171.36 L492.01,170.72 L492.13,170.07 L492.25,169.41 L492.38,168.73 L492.50,168.04 L492.63,167.35 L492.75,166.66 L492.87,165.96 L493.00,165.27 L493.12,164.58 L493.24,163.90 L493.37,163.23 L493.49,162.57 L493.62,161.92 L493.74,161.29 L493.86,160.68 L493.99,160.09 L494.11,159.53 L494.24,158.99 L494.36,158.48 L494.48,158.00 L494.61,157.55 L494.73,157.14 L494.86,156.76 L494.98,156.41 L495.10,156.11 L495.23,155.84 L495.35,155.61 L495.47,155.43 L495.60,155.28 L495.72,155.18 L495.85,155.12 L495.97,155.10 L496.09,155.12 L496.22,155.19 L496.34,155.30 L496.47,155.45 L496.59,155.65 L496.71,155.88 L496.84,156.15 L496.96,156.47 L497.08,156.82 L497.21,157.20 L497.33,157.62 L497.46,158.08 L497.58,158.56 L497.70,159.08 L497.83,159.62 L497.95,160.19 L498.08,160.78 L498.20,161.39 L498.32,162.02 L498.45,162.67 L498.57,163.33 L498.70,164.01 L498.82,164.69 L498.94,165.38 L499.07,166.08 L499.19,166.77 L499.31,167.47 L499.44,168.16 L499.56,168.84 L499.69,169.52 L499.81,170.18 L499.93,170.83 L500.06,171.46 L500.18,172.07 L500.31,172.67 L500.43,173.23 L500.55,173.78 L500.68,174.29 L500.80,174.78 L500.93,175.23 L501.05,175.65 L501.17,176.04 L501.30,176.39 L501.42,176.70 L501.54,176.98 L501.67,177.21 L501.79,177.41 L501.92,177.56 L502.04,177.67 L502.16,177.74 L502.29,177.76 L502.41,177.75 L502.54,177.69 L502.66,177.58 L502.78,177.44 L502.91,177.25 L503.03,177.03 L503.15,176.76 L503.28,176.46 L503.40,176.11 L503.53,175.73 L503.65,175.32 L503.77,174.87 L503.90,174.39 L504.02,173.88 L504.15,173.34 L504.27,172.78 L504.39,172.19 L504.52,171.58 L504.64,170.95 L504.77,170.31 L504.89,169.65 L505.01,168.98 L505.14,168.29 L505.26,167.60 L505.38,166.91 L505.51,166.22 L505.63,165.52 L505.76,164.83 L505.88,164.15 L506.00,163.47 L506.13,162.80 L506.25,162.15 L506.38,161.52 L506.50,160.90 L506.62,160.30 L506.75,159.73 L506.87,159.18 L506.99,158.66 L507.12,158.17 L507.24,157.71 L507.37,157.28 L507.49,156.89 L507.61,156.53 L507.74,156.21 L507.86,155.93 L507.99,155.69 L508.11,155.49 L508.23,155.33 L508.36,155.21 L508.48,155.14 L508.61,155.10 L508.73,155.11 L508.85,155.16 L508.98,155.26 L509.10,155.39 L509.22,155.57 L509.35,155.79 L509.47,156.05 L509.60,156.35 L509.72,156.68 L509.84,157.06 L509.97,157.47 L510.09,157.91 L510.22,158.38 L510.34,158.89 L510.46,159.42 L510.59,159.98 L510.71,160.56 L510.83,161.17 L510.96,161.79 L511.08,162.44 L511.21,163.09 L511.33,163.76 L511.45,164.44 L511.58,165.13 L511.70,165.83 L511.83,166.52 L511.95,167.22 L512.07,167.91 L512.20,168.59 L512.32,169.27 L512.45,169.94 L512.57,170.59 L512.69,171.23 L512.82,171.85 L512.94,172.45 L513.06,173.03 L513.19,173.58 L513.31,174.11 L513.44,174.61 L513.56,175.07 L513.68,175.51 L513.81,175.90 L513.93,176.27 L514.06,176.59 L514.18,176.88 L514.30,177.13 L514.43,177.34 L514.55,177.51 L514.67,177.63 L514.80,177.72 L514.92,177.76 L515.05,177.76 L515.17,177.71 L515.29,177.63 L515.42,177.50 L515.54,177.33 L515.67,177.11 L515.79,176.86 L515.91,176.57 L516.04,176.24 L516.16,175.88 L516.29,175.47 L516.41,175.04 L516.53,174.57 L516.66,174.07 L516.78,173.54 L516.90,172.99 L517.03,172.41 L517.15,171.81 L517.28,171.19 L517.40,170.55 L517.52,169.89 L517.65,169.22 L517.77,168.54 L517.90,167.86 L518.02,167.16 L518.14,166.47 L518.27,165.77 L518.39,165.08 L518.52,164.39 L518.64,163.71 L518.76,163.04 L518.89,162.39 L519.01,161.74 L519.13,161.12 L519.26,160.52 L519.38,159.93 L519.51,159.38 L519.63,158.85 L519.75,158.34 L519.88,157.87 L520.00,157.43 L520.13,157.03 L520.25,156.66 L520.37,156.32 L520.50,156.03 L520.62,155.77 L520.74,155.56 L520.87,155.38 L520.99,155.25 L521.12,155.16 L521.24,155.11 L521.36,155.10 L521.49,155.14 L521.61,155.22 L521.74,155.34 L521.86,155.50 L521.98,155.71 L522.11,155.95 L522.23,156.24 L522.36,156.56 L522.48,156.92 L522.60,157.31 L522.73,157.74 L522.85,158.21 L522.97,158.70 L523.10,159.22 L523.22,159.77 L523.35,160.35 L523.47,160.94 L523.59,161.56 L523.72,162.20 L523.84,162.85 L523.97,163.52 L524.09,164.20 L524.21,164.88 L524.34,165.57 L524.46,166.27 L524.58,166.96 L524.71,167.66 L524.83,168.35 L524.96,169.03 L525.08,169.70 L525.20,170.36 L525.33,171.00 L525.45,171.63 L525.58,172.24 L525.70,172.82 L525.82,173.39 L525.95,173.92 L526.07,174.43 L526.20,174.91 L526.32,175.35 L526.44,175.76 L526.57,176.14 L526.69,176.48 L526.81,176.78 L526.94,177.05 L527.06,177.27 L527.19,177.45 L527.31,177.59 L527.43,177.69 L527.56,177.75 L527.68,177.76 L527.81,177.73 L527.93,177.66 L528.05,177.55 L528.18,177.39 L528.30,177.20 L528.42,176.96 L528.55,176.68 L528.67,176.37 L528.80,176.01 L528.92,175.62 L529.04,175.20 L529.17,174.74 L529.29,174.25 L529.42,173.74 L529.54,173.19 L529.66,172.62 L529.79,172.03 L529.91,171.41 L530.04,170.78 L530.16,170.13 L530.28,169.47 L530.41,168.79 L530.53,168.11 L530.65,167.41 L530.78,166.72 L530.90,166.03 L531.03,165.33 L531.15,164.64 L531.27,163.96 L531.40,163.28 L531.52,162.62 L531.65,161.98 L531.77,161.34 L531.89,160.73 L532.02,160.14 L532.14,159.58 L532.26,159.04 L532.39,158.52 L532.51,158.04 L532.64,157.59 L532.76,157.17 L532.88,156.79 L533.01,156.44 L533.13,156.13 L533.26,155.86 L533.38,155.63 L533.50,155.44 L533.63,155.29 L533.75,155.19 L533.88,155.12 L534.00,155.10 L534.12,155.12 L534.25,155.18 L534.37,155.29 L534.49,155.44 L534.62,155.63 L534.74,155.86 L534.87,156.13 L534.99,156.44 L535.11,156.78 L535.24,157.17 L535.36,157.58 L535.49,158.03 L535.61,158.52 L535.73,159.03 L535.86,159.57 L535.98,160.14 L536.11,160.73 L536.23,161.34 L536.35,161.97 L536.48,162.61 L536.60,163.28 L536.72,163.95 L536.85,164.63 L536.97,165.32 L537.10,166.02 L537.22,166.71 L537.34,167.41 L537.47,168.10 L537.59,168.78 L537.72,169.46 L537.84,170.12 L537.96,170.77 L538.09,171.40 L538.21,172.02 L538.33,172.61 L538.46,173.18 L538.58,173.73 L538.71,174.25 L538.83,174.74 L538.95,175.19 L539.08,175.62 L539.20,176.01 L539.33,176.36 L539.45,176.68 L539.57,176.95 L539.70,177.19 L539.82,177.39 L539.95,177.55 L540.07,177.66 L540.19,177.73 L540.32,177.76 L540.44,177.75 L540.56,177.69 L540.69,177.59 L540.81,177.45 L540.94,177.27 L541.06,177.05 L541.18,176.79 L541.31,176.48 L541.43,176.14 L541.56,175.77 L541.68,175.36 L541.80,174.91 L541.93,174.44 L542.05,173.93 L542.17,173.39 L542.30,172.83 L542.42,172.25 L542.55,171.64 L542.67,171.01 L542.79,170.37 L542.92,169.71 L543.04,169.04 L543.17,168.35 L543.29,167.67 L543.41,166.97 L543.54,166.28 L543.66,165.58 L543.79,164.89 L543.91,164.21 L544.03,163.53 L544.16,162.86 L544.28,162.21 L544.40,161.57 L544.53,160.95 L544.65,160.35 L544.78,159.78 L544.90,159.23" fill="none" stroke="#1579CF" stroke-width="1.4" stroke-linejoin="round"/>
<rect x="352.0" y="16.5" width="73.40" height="24.80" fill="none" stroke="#262626" stroke-width="0.8"/>
<rect x="352.0" y="85.3" width="73.40" height="25.20" fill="none" stroke="#262626" stroke-width="0.8"/>
<rect x="352.0" y="155.1" width="73.40" height="24.50" fill="none" stroke="#262626" stroke-width="0.8"/>
<rect x="470.7" y="16.5" width="74.20" height="24.80" fill="none" stroke="#262626" stroke-width="0.8"/>
<rect x="470.7" y="85.3" width="74.20" height="25.20" fill="none" stroke="#262626" stroke-width="0.8"/>
<rect x="470.7" y="155.1" width="74.20" height="24.50" fill="none" stroke="#262626" stroke-width="0.8"/>
<line x1="352.00" y1="41.30" x2="353.00" y2="41.30" stroke="#262626" stroke-width="0.7"/>
<line x1="425.40" y1="41.30" x2="424.40" y2="41.30" stroke="#262626" stroke-width="0.7"/>
<line x1="352.00" y1="28.90" x2="353.00" y2="28.90" stroke="#262626" stroke-width="0.7"/>
<line x1="425.40" y1="28.90" x2="424.40" y2="28.90" stroke="#262626" stroke-width="0.7"/>
<line x1="352.00" y1="16.50" x2="353.00" y2="16.50" stroke="#262626" stroke-width="0.7"/>
<line x1="425.40" y1="16.50" x2="424.40" y2="16.50" stroke="#262626" stroke-width="0.7"/>
<line x1="352.00" y1="41.30" x2="352.00" y2="40.30" stroke="#262626" stroke-width="0.7"/>
<line x1="352.00" y1="16.50" x2="352.00" y2="17.50" stroke="#262626" stroke-width="0.7"/>
<line x1="425.40" y1="41.30" x2="425.40" y2="40.30" stroke="#262626" stroke-width="0.7"/>
<line x1="425.40" y1="16.50" x2="425.40" y2="17.50" stroke="#262626" stroke-width="0.7"/>
<line x1="470.70" y1="41.30" x2="471.70" y2="41.30" stroke="#262626" stroke-width="0.7"/>
<line x1="544.90" y1="41.30" x2="543.90" y2="41.30" stroke="#262626" stroke-width="0.7"/>
<line x1="470.70" y1="33.03" x2="471.70" y2="33.03" stroke="#262626" stroke-width="0.7"/>
<line x1="544.90" y1="33.03" x2="543.90" y2="33.03" stroke="#262626" stroke-width="0.7"/>
<line x1="470.70" y1="24.77" x2="471.70" y2="24.77" stroke="#262626" stroke-width="0.7"/>
<line x1="544.90" y1="24.77" x2="543.90" y2="24.77" stroke="#262626" stroke-width="0.7"/>
<line x1="470.70" y1="16.50" x2="471.70" y2="16.50" stroke="#262626" stroke-width="0.7"/>
<line x1="544.90" y1="16.50" x2="543.90" y2="16.50" stroke="#262626" stroke-width="0.7"/>
<line x1="470.70" y1="41.30" x2="470.70" y2="40.30" stroke="#262626" stroke-width="0.7"/>
<line x1="470.70" y1="16.50" x2="470.70" y2="17.50" stroke="#262626" stroke-width="0.7"/>
<line x1="501.62" y1="41.30" x2="501.62" y2="40.30" stroke="#262626" stroke-width="0.7"/>
<line x1="501.62" y1="16.50" x2="501.62" y2="17.50" stroke="#262626" stroke-width="0.7"/>
<line x1="532.53" y1="41.30" x2="532.53" y2="40.30" stroke="#262626" stroke-width="0.7"/>
<line x1="532.53" y1="16.50" x2="532.53" y2="17.50" stroke="#262626" stroke-width="0.7"/>
<line x1="352.00" y1="110.50" x2="353.00" y2="110.50" stroke="#262626" stroke-width="0.7"/>
<line x1="425.40" y1="110.50" x2="424.40" y2="110.50" stroke="#262626" stroke-width="0.7"/>
<line x1="352.00" y1="102.10" x2="353.00" y2="102.10" stroke="#262626" stroke-width="0.7"/>
<line x1="425.40" y1="102.10" x2="424.40" y2="102.10" stroke="#262626" stroke-width="0.7"/>
<line x1="352.00" y1="93.70" x2="353.00" y2="93.70" stroke="#262626" stroke-width="0.7"/>
<line x1="425.40" y1="93.70" x2="424.40" y2="93.70" stroke="#262626" stroke-width="0.7"/>
<line x1="352.00" y1="85.30" x2="353.00" y2="85.30" stroke="#262626" stroke-width="0.7"/>
<line x1="425.40" y1="85.30" x2="424.40" y2="85.30" stroke="#262626" stroke-width="0.7"/>
<line x1="352.00" y1="110.50" x2="352.00" y2="109.50" stroke="#262626" stroke-width="0.7"/>
<line x1="352.00" y1="85.30" x2="352.00" y2="86.30" stroke="#262626" stroke-width="0.7"/>
<line x1="382.58" y1="110.50" x2="382.58" y2="109.50" stroke="#262626" stroke-width="0.7"/>
<line x1="382.58" y1="85.30" x2="382.58" y2="86.30" stroke="#262626" stroke-width="0.7"/>
<line x1="413.17" y1="110.50" x2="413.17" y2="109.50" stroke="#262626" stroke-width="0.7"/>
<line x1="413.17" y1="85.30" x2="413.17" y2="86.30" stroke="#262626" stroke-width="0.7"/>
<line x1="470.70" y1="110.50" x2="471.70" y2="110.50" stroke="#262626" stroke-width="0.7"/>
<line x1="544.90" y1="110.50" x2="543.90" y2="110.50" stroke="#262626" stroke-width="0.7"/>
<line x1="470.70" y1="94.75" x2="471.70" y2="94.75" stroke="#262626" stroke-width="0.7"/>
<line x1="544.90" y1="94.75" x2="543.90" y2="94.75" stroke="#262626" stroke-width="0.7"/>
<line x1="470.70" y1="110.50" x2="470.70" y2="109.50" stroke="#262626" stroke-width="0.7"/>
<line x1="470.70" y1="85.30" x2="470.70" y2="86.30" stroke="#262626" stroke-width="0.7"/>
<line x1="501.62" y1="110.50" x2="501.62" y2="109.50" stroke="#262626" stroke-width="0.7"/>
<line x1="501.62" y1="85.30" x2="501.62" y2="86.30" stroke="#262626" stroke-width="0.7"/>
<line x1="532.53" y1="110.50" x2="532.53" y2="109.50" stroke="#262626" stroke-width="0.7"/>
<line x1="532.53" y1="85.30" x2="532.53" y2="86.30" stroke="#262626" stroke-width="0.7"/>
<line x1="352.00" y1="179.60" x2="353.00" y2="179.60" stroke="#262626" stroke-width="0.7"/>
<line x1="425.40" y1="179.60" x2="424.40" y2="179.60" stroke="#262626" stroke-width="0.7"/>
<line x1="352.00" y1="169.80" x2="353.00" y2="169.80" stroke="#262626" stroke-width="0.7"/>
<line x1="425.40" y1="169.80" x2="424.40" y2="169.80" stroke="#262626" stroke-width="0.7"/>
<line x1="352.00" y1="160.00" x2="353.00" y2="160.00" stroke="#262626" stroke-width="0.7"/>
<line x1="425.40" y1="160.00" x2="424.40" y2="160.00" stroke="#262626" stroke-width="0.7"/>
<line x1="352.00" y1="179.60" x2="352.00" y2="178.60" stroke="#262626" stroke-width="0.7"/>
<line x1="352.00" y1="155.10" x2="352.00" y2="156.10" stroke="#262626" stroke-width="0.7"/>
<line x1="382.58" y1="179.60" x2="382.58" y2="178.60" stroke="#262626" stroke-width="0.7"/>
<line x1="382.58" y1="155.10" x2="382.58" y2="156.10" stroke="#262626" stroke-width="0.7"/>
<line x1="413.17" y1="179.60" x2="413.17" y2="178.60" stroke="#262626" stroke-width="0.7"/>
<line x1="413.17" y1="155.10" x2="413.17" y2="156.10" stroke="#262626" stroke-width="0.7"/>
<line x1="470.70" y1="179.60" x2="471.70" y2="179.60" stroke="#262626" stroke-width="0.7"/>
<line x1="544.90" y1="179.60" x2="543.90" y2="179.60" stroke="#262626" stroke-width="0.7"/>
<line x1="470.70" y1="167.35" x2="471.70" y2="167.35" stroke="#262626" stroke-width="0.7"/>
<line x1="544.90" y1="167.35" x2="543.90" y2="167.35" stroke="#262626" stroke-width="0.7"/>
<line x1="470.70" y1="155.10" x2="471.70" y2="155.10" stroke="#262626" stroke-width="0.7"/>
<line x1="544.90" y1="155.10" x2="543.90" y2="155.10" stroke="#262626" stroke-width="0.7"/>
<line x1="470.70" y1="179.60" x2="470.70" y2="178.60" stroke="#262626" stroke-width="0.7"/>
<line x1="470.70" y1="155.10" x2="470.70" y2="156.10" stroke="#262626" stroke-width="0.7"/>
<line x1="501.62" y1="179.60" x2="501.62" y2="178.60" stroke="#262626" stroke-width="0.7"/>
<line x1="501.62" y1="155.10" x2="501.62" y2="156.10" stroke="#262626" stroke-width="0.7"/>
<line x1="532.53" y1="179.60" x2="532.53" y2="178.60" stroke="#262626" stroke-width="0.7"/>
<line x1="532.53" y1="155.10" x2="532.53" y2="156.10" stroke="#262626" stroke-width="0.7"/>
<text x="47.60" y="52.30" font-size="11" text-anchor="end">5000</text>
<text x="47.60" y="97.40" font-size="11" text-anchor="end">0</text>
<text x="48.20" y="143.20" font-size="11" text-anchor="end">−5000</text>
<text x="52.20" y="164.40" font-size="11" text-anchor="end">5000</text>
<text x="90.60" y="185.60" font-size="11" text-anchor="end">0</text>
<text x="124.00" y="207.80" font-size="11" text-anchor="end">−5000</text>
<text x="157.00" y="212.00" font-size="11" text-anchor="start">−1</text>
<text x="205.80" y="193.20" font-size="11" text-anchor="start">0</text>
<text x="264.10" y="174.50" font-size="11" text-anchor="start">1</text>
<text x="256.90" y="201.80" font-size="12" text-anchor="start">×10<tspan font-size="8.5" dy="-5.4">4</tspan></text>
<text x="47.60" y="213.40" font-size="11" text-anchor="start" font-style="italic" fill="#383838" textLength="28.6" lengthAdjust="spacingAndGlyphs">Y/km</text>
<text x="198.20" y="216.00" font-size="11" text-anchor="start" font-style="italic" fill="#383838" textLength="30.4" lengthAdjust="spacingAndGlyphs">X/km</text>
<text transform="translate(16.00,95.60) rotate(-90)" font-size="11" font-style="italic" fill="#383838" text-anchor="middle" textLength="29.6" lengthAdjust="spacingAndGlyphs">Z/km</text>
<text x="199.40" y="47.70" font-size="11" text-anchor="start" font-style="italic" fill="#383838" textLength="50.6" lengthAdjust="spacingAndGlyphs">True orbit</text>
<text x="199.40" y="61.30" font-size="11" text-anchor="start" font-style="italic" fill="#383838" textLength="80.6" lengthAdjust="spacingAndGlyphs">Inaccurate orbit</text>
<text x="389.00" y="12.00" font-size="11" text-anchor="middle" font-style="italic" fill="#383838">a</text>
<text x="350.20" y="44.90" font-size="10.5" text-anchor="end">0</text>
<text x="350.20" y="32.50" font-size="10.5" text-anchor="end">1</text>
<text x="350.20" y="20.10" font-size="10.5" text-anchor="end">2</text>
<text x="352.00" y="53.80" font-size="10.5" text-anchor="middle">0</text>
<text x="425.40" y="53.80" font-size="10.5" text-anchor="middle">50</text>
<text x="389.20" y="64.50" font-size="11" text-anchor="middle" font-style="italic" fill="#383838" textLength="30.0" lengthAdjust="spacingAndGlyphs">T/day</text>
<text transform="translate(340.00,28.90) rotate(-90)" font-size="11" font-style="italic" fill="#383838" text-anchor="middle" textLength="28.8" lengthAdjust="spacingAndGlyphs">D/km</text>
<text x="508.10" y="12.00" font-size="11" text-anchor="middle" font-style="italic" fill="#383838">e</text>
<text x="468.50" y="44.90" font-size="10.5" text-anchor="end">0</text>
<text x="468.50" y="36.63" font-size="10.5" text-anchor="end">1000</text>
<text x="468.50" y="28.37" font-size="10.5" text-anchor="end">2000</text>
<text x="468.50" y="20.10" font-size="10.5" text-anchor="end">3000</text>
<text x="470.70" y="53.80" font-size="10.5" text-anchor="middle">0</text>
<text x="501.62" y="53.80" font-size="10.5" text-anchor="middle">5</text>
<text x="532.53" y="53.80" font-size="10.5" text-anchor="middle">10</text>
<text x="508.30" y="64.50" font-size="11" text-anchor="middle" font-style="italic" fill="#383838" textLength="35.0" lengthAdjust="spacingAndGlyphs">T/hour</text>
<text transform="translate(441.70,28.90) rotate(-90)" font-size="11" font-style="italic" fill="#383838" text-anchor="middle" textLength="28.8" lengthAdjust="spacingAndGlyphs">D/km</text>
<text x="389.00" y="80.80" font-size="11" text-anchor="middle" font-style="italic" fill="#383838">i</text>
<text x="350.20" y="114.10" font-size="10.5" text-anchor="end">0</text>
<text x="350.20" y="105.70" font-size="10.5" text-anchor="end">5</text>
<text x="350.20" y="97.30" font-size="10.5" text-anchor="end">10</text>
<text x="350.20" y="88.90" font-size="10.5" text-anchor="end">15</text>
<text x="352.00" y="123.00" font-size="10.5" text-anchor="middle">0</text>
<text x="382.58" y="123.00" font-size="10.5" text-anchor="middle">5</text>
<text x="413.17" y="123.00" font-size="10.5" text-anchor="middle">10</text>
<text x="389.20" y="133.70" font-size="11" text-anchor="middle" font-style="italic" fill="#383838" textLength="35.0" lengthAdjust="spacingAndGlyphs">T/hour</text>
<text transform="translate(334.30,97.90) rotate(-90)" font-size="11" font-style="italic" fill="#383838" text-anchor="middle" textLength="28.8" lengthAdjust="spacingAndGlyphs">D/km</text>
<text x="507.30" y="80.80" font-size="11" text-anchor="middle">Ω</text>
<text x="468.50" y="114.10" font-size="10.5" text-anchor="end">10</text>
<text x="468.50" y="98.35" font-size="10.5" text-anchor="end">15</text>
<text x="470.70" y="123.00" font-size="10.5" text-anchor="middle">0</text>
<text x="501.62" y="123.00" font-size="10.5" text-anchor="middle">5</text>
<text x="532.53" y="123.00" font-size="10.5" text-anchor="middle">10</text>
<text x="508.30" y="133.70" font-size="11" text-anchor="middle" font-style="italic" fill="#383838" textLength="35.0" lengthAdjust="spacingAndGlyphs">T/hour</text>
<text transform="translate(453.00,97.90) rotate(-90)" font-size="11" font-style="italic" fill="#383838" text-anchor="middle" textLength="28.8" lengthAdjust="spacingAndGlyphs">D/km</text>
<text x="389.00" y="150.60" font-size="11" text-anchor="middle" font-style="italic" fill="#383838">ω</text>
<text x="350.20" y="183.20" font-size="10.5" text-anchor="end">12</text>
<text x="350.20" y="173.40" font-size="10.5" text-anchor="end">14</text>
<text x="350.20" y="163.60" font-size="10.5" text-anchor="end">16</text>
<text x="352.00" y="192.10" font-size="10.5" text-anchor="middle">0</text>
<text x="382.58" y="192.10" font-size="10.5" text-anchor="middle">5</text>
<text x="413.17" y="192.10" font-size="10.5" text-anchor="middle">10</text>
<text x="389.20" y="202.80" font-size="11" text-anchor="middle" font-style="italic" fill="#383838" textLength="35.0" lengthAdjust="spacingAndGlyphs">T/hour</text>
<text transform="translate(334.60,167.35) rotate(-90)" font-size="11" font-style="italic" fill="#383838" text-anchor="middle" textLength="28.8" lengthAdjust="spacingAndGlyphs">D/km</text>
<text x="506.90" y="150.60" font-size="11" text-anchor="middle" font-style="italic" fill="#383838">f</text>
<text x="468.50" y="183.20" font-size="10.5" text-anchor="end">10</text>
<text x="468.50" y="170.95" font-size="10.5" text-anchor="end">12</text>
<text x="468.50" y="158.70" font-size="10.5" text-anchor="end">14</text>
<text x="470.70" y="192.10" font-size="10.5" text-anchor="middle">0</text>
<text x="501.62" y="192.10" font-size="10.5" text-anchor="middle">5</text>
<text x="532.53" y="192.10" font-size="10.5" text-anchor="middle">10</text>
<text x="508.30" y="202.80" font-size="11" text-anchor="middle" font-style="italic" fill="#383838" textLength="35.0" lengthAdjust="spacingAndGlyphs">T/hour</text>
<text transform="translate(453.00,167.35) rotate(-90)" font-size="11" font-style="italic" fill="#383838" text-anchor="middle" textLength="28.8" lengthAdjust="spacingAndGlyphs">D/km</text>
<text x="352.40" y="14.40" font-size="12" text-anchor="start">×10<tspan font-size="8.5" dy="-5.2">4</tspan></text>
<text class="lbl" x="146" y="250.4" font-size="14.3" text-anchor="middle"><tspan font-weight="normal">(</tspan>a<tspan font-weight="normal">)</tspan></text>
<text class="lbl" x="437" y="250.4" font-size="14.3" text-anchor="middle"><tspan font-weight="normal">(</tspan>b<tspan font-weight="normal">)</tspan></text>
</svg>
</body></html>
